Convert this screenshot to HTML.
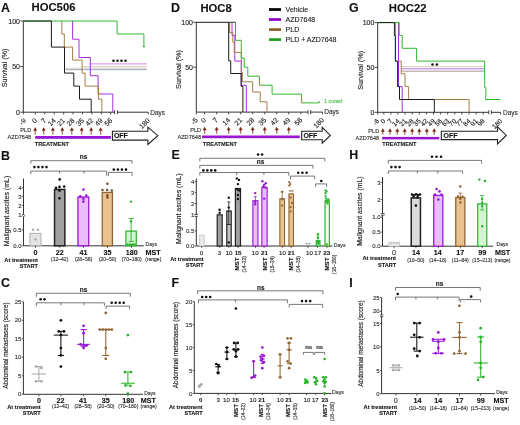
<!DOCTYPE html>
<html><head><meta charset="utf-8"><style>
html,body{margin:0;padding:0;background:#fff;width:520px;height:425px;overflow:hidden}
svg{display:block;will-change:transform}
text{font-family:"Liberation Sans", sans-serif}
</style></head><body>
<svg width="520" height="425" viewBox="0 0 520 425">
<rect width="520" height="425" fill="#fff"/>
<text x="1.1" y="11.66" font-size="12.4" text-anchor="start" font-weight="bold" fill="#111" stroke="#111" stroke-width="0.1">A</text>
<text x="1.1" y="159.66" font-size="12.4" text-anchor="start" font-weight="bold" fill="#111" stroke="#111" stroke-width="0.1">B</text>
<text x="1.1" y="286.86" font-size="12.4" text-anchor="start" font-weight="bold" fill="#111" stroke="#111" stroke-width="0.1">C</text>
<text x="171.1" y="11.86" font-size="12.4" text-anchor="start" font-weight="bold" fill="#111" stroke="#111" stroke-width="0.1">D</text>
<text x="171.4" y="159.26" font-size="12.4" text-anchor="start" font-weight="bold" fill="#111" stroke="#111" stroke-width="0.1">E</text>
<text x="171.4" y="286.96" font-size="12.4" text-anchor="start" font-weight="bold" fill="#111" stroke="#111" stroke-width="0.1">F</text>
<text x="349.1" y="11.86" font-size="12.4" text-anchor="start" font-weight="bold" fill="#111" stroke="#111" stroke-width="0.1">G</text>
<text x="349.2" y="158.66" font-size="12.4" text-anchor="start" font-weight="bold" fill="#111" stroke="#111" stroke-width="0.1">H</text>
<text x="349.2" y="287.16" font-size="12.4" text-anchor="start" font-weight="bold" fill="#111" stroke="#111" stroke-width="0.1">I</text>
<text x="31.5" y="11.37" font-size="11.3" text-anchor="start" font-weight="bold" fill="#111" stroke="#111" stroke-width="0.1">HOC506</text>
<text x="200.4" y="11.57" font-size="11.3" text-anchor="start" font-weight="bold" fill="#111" stroke="#111" stroke-width="0.1">HOC8</text>
<text x="388.8" y="11.57" font-size="11.3" text-anchor="start" font-weight="bold" fill="#111" stroke="#111" stroke-width="0.1">HOC22</text>
<line x1="23.3" y1="21" x2="23.3" y2="112.2" stroke="#333" stroke-width="1"/>
<line x1="20.3" y1="21" x2="23.3" y2="21" stroke="#333" stroke-width="0.9"/>
<text x="20" y="23.52" font-size="7" text-anchor="end" fill="#222" stroke="#222" stroke-width="0.13">100</text>
<line x1="20.3" y1="66.6" x2="23.3" y2="66.6" stroke="#333" stroke-width="0.9"/>
<text x="20" y="69.12" font-size="7" text-anchor="end" fill="#222" stroke="#222" stroke-width="0.13">50</text>
<line x1="20.3" y1="112.2" x2="23.3" y2="112.2" stroke="#333" stroke-width="0.9"/>
<text x="20" y="114.72" font-size="7" text-anchor="end" fill="#222" stroke="#222" stroke-width="0.13">0</text>
<line x1="23.3" y1="112.2" x2="114.6" y2="112.2" stroke="#333" stroke-width="1"/>
<line x1="117.4" y1="112.2" x2="148.3" y2="112.2" stroke="#333" stroke-width="1"/>
<line x1="114.6" y1="110.2" x2="114.6" y2="114.2" stroke="#333" stroke-width="0.9"/>
<line x1="117.4" y1="110.2" x2="117.4" y2="114.2" stroke="#333" stroke-width="0.9"/>
<line x1="23.3" y1="112.2" x2="23.3" y2="114.4" stroke="#333" stroke-width="0.9"/>
<text x="26.6" y="121.1" font-size="7" text-anchor="end" fill="#222" stroke="#222" stroke-width="0.13" transform="rotate(-45 26.6 121.1)">-9</text>
<line x1="35.4" y1="112.2" x2="35.4" y2="114.4" stroke="#333" stroke-width="0.9"/>
<text x="37.4" y="121.1" font-size="7" text-anchor="end" fill="#222" stroke="#222" stroke-width="0.13" transform="rotate(-45 37.4 121.1)">0</text>
<line x1="44.81" y1="112.2" x2="44.81" y2="114.4" stroke="#333" stroke-width="0.9"/>
<text x="46.81" y="121.1" font-size="7" text-anchor="end" fill="#222" stroke="#222" stroke-width="0.13" transform="rotate(-45 46.81 121.1)">7</text>
<line x1="54.23" y1="112.2" x2="54.23" y2="114.4" stroke="#333" stroke-width="0.9"/>
<text x="56.23" y="121.1" font-size="7" text-anchor="end" fill="#222" stroke="#222" stroke-width="0.13" transform="rotate(-45 56.23 121.1)">14</text>
<line x1="63.64" y1="112.2" x2="63.64" y2="114.4" stroke="#333" stroke-width="0.9"/>
<text x="65.64" y="121.1" font-size="7" text-anchor="end" fill="#222" stroke="#222" stroke-width="0.13" transform="rotate(-45 65.64 121.1)">21</text>
<line x1="73.06" y1="112.2" x2="73.06" y2="114.4" stroke="#333" stroke-width="0.9"/>
<text x="75.06" y="121.1" font-size="7" text-anchor="end" fill="#222" stroke="#222" stroke-width="0.13" transform="rotate(-45 75.06 121.1)">28</text>
<line x1="82.47" y1="112.2" x2="82.47" y2="114.4" stroke="#333" stroke-width="0.9"/>
<text x="84.47" y="121.1" font-size="7" text-anchor="end" fill="#222" stroke="#222" stroke-width="0.13" transform="rotate(-45 84.47 121.1)">35</text>
<line x1="91.89" y1="112.2" x2="91.89" y2="114.4" stroke="#333" stroke-width="0.9"/>
<text x="93.89" y="121.1" font-size="7" text-anchor="end" fill="#222" stroke="#222" stroke-width="0.13" transform="rotate(-45 93.89 121.1)">42</text>
<line x1="101.31" y1="112.2" x2="101.31" y2="114.4" stroke="#333" stroke-width="0.9"/>
<text x="103.31" y="121.1" font-size="7" text-anchor="end" fill="#222" stroke="#222" stroke-width="0.13" transform="rotate(-45 103.31 121.1)">49</text>
<line x1="110.72" y1="112.2" x2="110.72" y2="114.4" stroke="#333" stroke-width="0.9"/>
<text x="112.72" y="121.1" font-size="7" text-anchor="end" fill="#222" stroke="#222" stroke-width="0.13" transform="rotate(-45 112.72 121.1)">56</text>
<line x1="148.3" y1="112.2" x2="148.3" y2="114.4" stroke="#333" stroke-width="0.9"/>
<text x="150.3" y="121.1" font-size="7" text-anchor="end" fill="#222" stroke="#222" stroke-width="0.13" transform="rotate(-45 150.3 121.1)">180</text>
<text x="150.2" y="114.54" font-size="6.5" text-anchor="start" fill="#333" stroke="#333" stroke-width="0.13">Days</text>
<text x="4.9" y="70.59" font-size="7.2" text-anchor="middle" fill="#222" stroke="#222" stroke-width="0.13" transform="rotate(-90 4.9 68)">Survival (%)</text>
<line x1="89.6" y1="63.9" x2="146.8" y2="63.9" stroke="#c868e0" stroke-width="0.8"/>
<line x1="83" y1="66.7" x2="146.8" y2="66.7" stroke="#d8b890" stroke-width="0.8"/>
<line x1="65.4" y1="68.3" x2="146.8" y2="68.3" stroke="#c0c0c0" stroke-width="0.7"/>
<line x1="65.4" y1="69.7" x2="146.8" y2="69.7" stroke="#8890a0" stroke-width="0.8"/>
<circle cx="113.5" cy="60.7" r="1.3" fill="#111"/>
<circle cx="117.5" cy="60.7" r="1.3" fill="#111"/>
<circle cx="121.5" cy="60.7" r="1.3" fill="#111"/>
<circle cx="125.5" cy="60.7" r="1.3" fill="#111"/>
<path d="M72.6,21 L72.6,21 L72.6,39.2 L79,39.2 L79,57.5 L90.3,57.5 L90.3,75.7 L98.1,75.7 L98.1,94 L112.8,94 L112.8,112.2" stroke="#a630e0" stroke-width="1" fill="none" stroke-linejoin="miter" stroke-linecap="butt"/>
<path d="M61.8,21 L61.8,21 L61.8,34 L64.3,34 L64.3,47.1 L72.6,47.1 L72.6,60.1 L82.1,60.1 L82.1,73.1 L85.1,73.1 L85.1,86.1 L98.4,86.1 L98.4,99.2 L101.9,99.2 L101.9,112.2" stroke="#a67c46" stroke-width="1" fill="none" stroke-linejoin="miter" stroke-linecap="butt"/>
<path d="M23.3,21 L117.1,21 L117.1,34 L143.9,34 L143.9,47.1" stroke="#2eb82e" stroke-width="1" fill="none" stroke-linejoin="miter" stroke-linecap="butt"/>
<line x1="142.8" y1="46.6" x2="145" y2="46.6" stroke="#28b428" stroke-width="1.2"/>
<path d="M23.3,21 L51.4,21 L51.4,47.1 L64.5,47.1 L64.5,73.1 L73.8,73.1 L73.8,86.1 L79.5,86.1 L79.5,99.2 L91.2,99.2 L91.2,112.2" stroke="#1a1a1a" stroke-width="1" fill="none" stroke-linejoin="miter" stroke-linecap="butt"/>
<text x="31.2" y="132.12" font-size="5.6" text-anchor="end" fill="#333" stroke="#333" stroke-width="0.13">PLD</text>
<text x="31.2" y="139.42" font-size="5.6" text-anchor="end" fill="#333" stroke="#333" stroke-width="0.13">AZD7648</text>
<line x1="35.2" y1="130.3" x2="35.2" y2="134.6" stroke="#a07060" stroke-width="1.25"/>
<path d="M33.2,130.8 L35.2,127.3 L37.2,130.8 Z" fill="#7e2410"/>
<line x1="43.7" y1="130.3" x2="43.7" y2="134.6" stroke="#a07060" stroke-width="1.25"/>
<path d="M41.7,130.8 L43.7,127.3 L45.7,130.8 Z" fill="#7e2410"/>
<line x1="52.9" y1="130.3" x2="52.9" y2="134.6" stroke="#a07060" stroke-width="1.25"/>
<path d="M50.9,130.8 L52.9,127.3 L54.9,130.8 Z" fill="#7e2410"/>
<line x1="62.3" y1="130.3" x2="62.3" y2="134.6" stroke="#a07060" stroke-width="1.25"/>
<path d="M60.3,130.8 L62.3,127.3 L64.3,130.8 Z" fill="#7e2410"/>
<line x1="71.8" y1="130.3" x2="71.8" y2="134.6" stroke="#a07060" stroke-width="1.25"/>
<path d="M69.8,130.8 L71.8,127.3 L73.8,130.8 Z" fill="#7e2410"/>
<line x1="81.7" y1="130.3" x2="81.7" y2="134.6" stroke="#a07060" stroke-width="1.25"/>
<path d="M79.7,130.8 L81.7,127.3 L83.7,130.8 Z" fill="#7e2410"/>
<line x1="91.2" y1="130.3" x2="91.2" y2="134.6" stroke="#a07060" stroke-width="1.25"/>
<path d="M89.2,130.8 L91.2,127.3 L93.2,130.8 Z" fill="#7e2410"/>
<line x1="100.6" y1="130.3" x2="100.6" y2="134.6" stroke="#a07060" stroke-width="1.25"/>
<path d="M98.6,130.8 L100.6,127.3 L102.6,130.8 Z" fill="#7e2410"/>
<rect x="35.2" y="136" width="75.7" height="2.8" fill="#9a16d6"/>
<text x="34.8" y="145.92" font-size="5.6" text-anchor="start" font-weight="bold" fill="#222" stroke="#222" stroke-width="0.1">TREATMENT</text>
<path d="M112.4,131.3 L147.9,131.3 L147.9,127.2 L157.8,135.7 L147.9,144.5 L147.9,140.1 L112.4,140.1 Z" stroke="#222" stroke-width="1.1" fill="#fff" stroke-linejoin="miter"/>
<text x="113.9" y="137.92" font-size="7" text-anchor="start" font-weight="bold" fill="#111" stroke="#111" stroke-width="0.1">OFF</text>
<line x1="196.3" y1="22.3" x2="196.3" y2="112.1" stroke="#333" stroke-width="1"/>
<line x1="193.3" y1="22.3" x2="196.3" y2="22.3" stroke="#333" stroke-width="0.9"/>
<text x="193" y="24.82" font-size="7" text-anchor="end" fill="#222" stroke="#222" stroke-width="0.13">100</text>
<line x1="193.3" y1="67.2" x2="196.3" y2="67.2" stroke="#333" stroke-width="0.9"/>
<text x="193" y="69.72" font-size="7" text-anchor="end" fill="#222" stroke="#222" stroke-width="0.13">50</text>
<line x1="196.3" y1="112.1" x2="308" y2="112.1" stroke="#333" stroke-width="1"/>
<line x1="310.6" y1="112.1" x2="322.5" y2="112.1" stroke="#333" stroke-width="1"/>
<line x1="308" y1="110.1" x2="308" y2="114.1" stroke="#333" stroke-width="0.9"/>
<line x1="310.6" y1="110.1" x2="310.6" y2="114.1" stroke="#333" stroke-width="0.9"/>
<line x1="196.3" y1="112.1" x2="196.3" y2="114.3" stroke="#333" stroke-width="0.9"/>
<text x="198.3" y="120.5" font-size="7" text-anchor="end" fill="#222" stroke="#222" stroke-width="0.13" transform="rotate(-45 198.3 120.5)">-5</text>
<line x1="204.6" y1="112.1" x2="204.6" y2="114.3" stroke="#333" stroke-width="0.9"/>
<text x="206.6" y="120.5" font-size="7" text-anchor="end" fill="#222" stroke="#222" stroke-width="0.13" transform="rotate(-45 206.6 120.5)">0</text>
<line x1="216.62" y1="112.1" x2="216.62" y2="114.3" stroke="#333" stroke-width="0.9"/>
<text x="218.62" y="120.5" font-size="7" text-anchor="end" fill="#222" stroke="#222" stroke-width="0.13" transform="rotate(-45 218.62 120.5)">7</text>
<line x1="228.65" y1="112.1" x2="228.65" y2="114.3" stroke="#333" stroke-width="0.9"/>
<text x="230.65" y="120.5" font-size="7" text-anchor="end" fill="#222" stroke="#222" stroke-width="0.13" transform="rotate(-45 230.65 120.5)">14</text>
<line x1="240.67" y1="112.1" x2="240.67" y2="114.3" stroke="#333" stroke-width="0.9"/>
<text x="242.67" y="120.5" font-size="7" text-anchor="end" fill="#222" stroke="#222" stroke-width="0.13" transform="rotate(-45 242.67 120.5)">21</text>
<line x1="252.7" y1="112.1" x2="252.7" y2="114.3" stroke="#333" stroke-width="0.9"/>
<text x="254.7" y="120.5" font-size="7" text-anchor="end" fill="#222" stroke="#222" stroke-width="0.13" transform="rotate(-45 254.7 120.5)">28</text>
<line x1="264.72" y1="112.1" x2="264.72" y2="114.3" stroke="#333" stroke-width="0.9"/>
<text x="266.72" y="120.5" font-size="7" text-anchor="end" fill="#222" stroke="#222" stroke-width="0.13" transform="rotate(-45 266.72 120.5)">35</text>
<line x1="276.75" y1="112.1" x2="276.75" y2="114.3" stroke="#333" stroke-width="0.9"/>
<text x="278.75" y="120.5" font-size="7" text-anchor="end" fill="#222" stroke="#222" stroke-width="0.13" transform="rotate(-45 278.75 120.5)">42</text>
<line x1="288.77" y1="112.1" x2="288.77" y2="114.3" stroke="#333" stroke-width="0.9"/>
<text x="290.77" y="120.5" font-size="7" text-anchor="end" fill="#222" stroke="#222" stroke-width="0.13" transform="rotate(-45 290.77 120.5)">49</text>
<line x1="300.8" y1="112.1" x2="300.8" y2="114.3" stroke="#333" stroke-width="0.9"/>
<text x="302.8" y="120.5" font-size="7" text-anchor="end" fill="#222" stroke="#222" stroke-width="0.13" transform="rotate(-45 302.8 120.5)">56</text>
<line x1="322.5" y1="112.1" x2="322.5" y2="114.3" stroke="#333" stroke-width="0.9"/>
<text x="324.5" y="120.5" font-size="7" text-anchor="end" fill="#222" stroke="#222" stroke-width="0.13" transform="rotate(-45 324.5 120.5)">180</text>
<text x="324.2" y="114.44" font-size="6.5" text-anchor="start" fill="#333" stroke="#333" stroke-width="0.13">Days</text>
<text x="178.6" y="72.09" font-size="7.2" text-anchor="middle" fill="#222" stroke="#222" stroke-width="0.13" transform="rotate(-90 178.6 69.5)">Survival (%)</text>
<rect x="269" y="8.15" width="12" height="2.7" fill="#000"/>
<text x="285.6" y="12.32" font-size="7" text-anchor="start" fill="#222" stroke="#222" stroke-width="0.13">Vehicle</text>
<rect x="269" y="18.15" width="12" height="2.7" fill="#8a00c0"/>
<text x="285.6" y="22.32" font-size="7" text-anchor="start" fill="#222" stroke="#222" stroke-width="0.13">AZD7648</text>
<rect x="269" y="28.25" width="12" height="2.7" fill="#8c5f28"/>
<text x="285.6" y="32.42" font-size="7" text-anchor="start" fill="#222" stroke="#222" stroke-width="0.13">PLD</text>
<rect x="269" y="38.25" width="12" height="2.7" fill="#1ea01e"/>
<text x="285.6" y="42.42" font-size="7" text-anchor="start" fill="#222" stroke="#222" stroke-width="0.13">PLD + AZD7648</text>
<path d="M232,22.3 L232,22.3 L232,35.4 L234.8,35.4 L234.8,61 L241.3,61 L241.3,85.3 L246.3,85.3 L246.3,112.1" stroke="#a630e0" stroke-width="1" fill="none" stroke-linejoin="miter" stroke-linecap="butt"/>
<path d="M229.6,22.3 L229.6,22.3 L229.6,32.7 L232.8,32.7 L232.8,42.1 L234.2,42.1 L234.2,52.4 L241.3,52.4 L241.3,72 L242.3,72 L242.3,81.8 L252.7,81.8 L252.7,92 L260.2,92 L260.2,101.8 L267,101.8 L267,112.1" stroke="#a67c46" stroke-width="1" fill="none" stroke-linejoin="miter" stroke-linecap="butt"/>
<path d="M235.5,22.3 L235.5,22.3 L235.5,40.3 L241.3,40.3 L241.3,58.2 L244.2,58.2 L244.2,67.2 L247.8,67.2 L247.8,76.2 L259.5,76.2 L259.5,85.2 L272.1,85.2 L272.1,94.1 L301.6,94.1 L301.6,102.9 L319.2,102.9" stroke="#2eb82e" stroke-width="1" fill="none" stroke-linejoin="miter" stroke-linecap="butt"/>
<line x1="319.2" y1="101" x2="319.2" y2="102.9" stroke="#2eb82e" stroke-width="1"/>
<path d="M196.3,22.3 L228.7,22.3 L228.7,60.8 L230.7,60.8 L230.7,73.5 L241.1,73.5 L241.1,86.4 L242.9,86.4 L242.9,112.1" stroke="#1a1a1a" stroke-width="1" fill="none" stroke-linejoin="miter" stroke-linecap="butt"/>
<line x1="228.5" y1="22.3" x2="235.5" y2="22.3" stroke="#444" stroke-width="1.1"/>
<text x="324" y="103.04" font-size="5.4" text-anchor="start" fill="#4cbf4c" stroke="#4cbf4c" stroke-width="0.13">1 cured</text>
<text x="201.1" y="131.92" font-size="5.6" text-anchor="end" fill="#333" stroke="#333" stroke-width="0.13">PLD</text>
<text x="201.1" y="138.82" font-size="5.6" text-anchor="end" fill="#333" stroke="#333" stroke-width="0.13">AZD7648</text>
<line x1="204.6" y1="129.8" x2="204.6" y2="133.7" stroke="#a07060" stroke-width="1.25"/>
<path d="M202.6,130.3 L204.6,126.8 L206.6,130.3 Z" fill="#7e2410"/>
<line x1="216.62" y1="129.8" x2="216.62" y2="133.7" stroke="#a07060" stroke-width="1.25"/>
<path d="M214.62,130.3 L216.62,126.8 L218.62,130.3 Z" fill="#7e2410"/>
<line x1="228.65" y1="129.8" x2="228.65" y2="133.7" stroke="#a07060" stroke-width="1.25"/>
<path d="M226.65,130.3 L228.65,126.8 L230.65,130.3 Z" fill="#7e2410"/>
<line x1="240.67" y1="129.8" x2="240.67" y2="133.7" stroke="#a07060" stroke-width="1.25"/>
<path d="M238.67,130.3 L240.67,126.8 L242.67,130.3 Z" fill="#7e2410"/>
<line x1="252.7" y1="129.8" x2="252.7" y2="133.7" stroke="#a07060" stroke-width="1.25"/>
<path d="M250.7,130.3 L252.7,126.8 L254.7,130.3 Z" fill="#7e2410"/>
<line x1="264.72" y1="129.8" x2="264.72" y2="133.7" stroke="#a07060" stroke-width="1.25"/>
<path d="M262.72,130.3 L264.72,126.8 L266.72,130.3 Z" fill="#7e2410"/>
<line x1="276.75" y1="129.8" x2="276.75" y2="133.7" stroke="#a07060" stroke-width="1.25"/>
<path d="M274.75,130.3 L276.75,126.8 L278.75,130.3 Z" fill="#7e2410"/>
<line x1="288.77" y1="129.8" x2="288.77" y2="133.7" stroke="#a07060" stroke-width="1.25"/>
<path d="M286.77,130.3 L288.77,126.8 L290.77,130.3 Z" fill="#7e2410"/>
<rect x="202" y="135.5" width="97.8" height="2.7" fill="#9a16d6"/>
<text x="202.8" y="146.02" font-size="5.6" text-anchor="start" font-weight="bold" fill="#222" stroke="#222" stroke-width="0.1">TREATMENT</text>
<path d="M301.7,131.2 L322.2,131.2 L322.2,127.4 L330.4,135.45 L322.2,143.2 L322.2,139.7 L301.7,139.7 Z" stroke="#222" stroke-width="1.1" fill="#fff" stroke-linejoin="miter"/>
<text x="303.4" y="138.02" font-size="7" text-anchor="start" font-weight="bold" fill="#111" stroke="#111" stroke-width="0.1">OFF</text>
<line x1="377.7" y1="22.6" x2="377.7" y2="112.3" stroke="#333" stroke-width="1"/>
<line x1="374.7" y1="22.6" x2="377.7" y2="22.6" stroke="#333" stroke-width="0.9"/>
<text x="374.4" y="25.12" font-size="7" text-anchor="end" fill="#222" stroke="#222" stroke-width="0.13">100</text>
<line x1="374.7" y1="67.45" x2="377.7" y2="67.45" stroke="#333" stroke-width="0.9"/>
<text x="374.4" y="69.97" font-size="7" text-anchor="end" fill="#222" stroke="#222" stroke-width="0.13">50</text>
<line x1="374.7" y1="112.3" x2="377.7" y2="112.3" stroke="#333" stroke-width="0.9"/>
<text x="374.4" y="114.82" font-size="7" text-anchor="end" fill="#222" stroke="#222" stroke-width="0.13">0</text>
<line x1="377.7" y1="112.3" x2="488.8" y2="112.3" stroke="#333" stroke-width="1"/>
<line x1="491.4" y1="112.3" x2="500.6" y2="112.3" stroke="#333" stroke-width="1"/>
<line x1="488.8" y1="110.3" x2="488.8" y2="114.3" stroke="#333" stroke-width="0.9"/>
<line x1="491.4" y1="110.3" x2="491.4" y2="114.3" stroke="#333" stroke-width="0.9"/>
<line x1="377.7" y1="112.3" x2="377.7" y2="114.5" stroke="#333" stroke-width="0.9"/>
<text x="379.7" y="121.5" font-size="6.6" text-anchor="end" fill="#222" stroke="#222" stroke-width="0.13" transform="rotate(-45 379.7 121.5)">-6</text>
<line x1="383.8" y1="112.3" x2="383.8" y2="114.5" stroke="#333" stroke-width="0.9"/>
<text x="385.8" y="121.5" font-size="6.6" text-anchor="end" fill="#222" stroke="#222" stroke-width="0.13" transform="rotate(-45 385.8 121.5)">0</text>
<line x1="390.9" y1="112.3" x2="390.9" y2="114.5" stroke="#333" stroke-width="0.9"/>
<text x="392.9" y="121.5" font-size="6.6" text-anchor="end" fill="#222" stroke="#222" stroke-width="0.13" transform="rotate(-45 392.9 121.5)">7</text>
<line x1="398" y1="112.3" x2="398" y2="114.5" stroke="#333" stroke-width="0.9"/>
<text x="400" y="121.5" font-size="6.6" text-anchor="end" fill="#222" stroke="#222" stroke-width="0.13" transform="rotate(-45 400 121.5)">14</text>
<line x1="405.1" y1="112.3" x2="405.1" y2="114.5" stroke="#333" stroke-width="0.9"/>
<text x="407.1" y="121.5" font-size="6.6" text-anchor="end" fill="#222" stroke="#222" stroke-width="0.13" transform="rotate(-45 407.1 121.5)">21</text>
<line x1="412.2" y1="112.3" x2="412.2" y2="114.5" stroke="#333" stroke-width="0.9"/>
<text x="414.2" y="121.5" font-size="6.6" text-anchor="end" fill="#222" stroke="#222" stroke-width="0.13" transform="rotate(-45 414.2 121.5)">28</text>
<line x1="419.3" y1="112.3" x2="419.3" y2="114.5" stroke="#333" stroke-width="0.9"/>
<text x="421.3" y="121.5" font-size="6.6" text-anchor="end" fill="#222" stroke="#222" stroke-width="0.13" transform="rotate(-45 421.3 121.5)">35</text>
<line x1="426.4" y1="112.3" x2="426.4" y2="114.5" stroke="#333" stroke-width="0.9"/>
<text x="428.4" y="121.5" font-size="6.6" text-anchor="end" fill="#222" stroke="#222" stroke-width="0.13" transform="rotate(-45 428.4 121.5)">42</text>
<line x1="433.5" y1="112.3" x2="433.5" y2="114.5" stroke="#333" stroke-width="0.9"/>
<text x="435.5" y="121.5" font-size="6.6" text-anchor="end" fill="#222" stroke="#222" stroke-width="0.13" transform="rotate(-45 435.5 121.5)">49</text>
<line x1="440.6" y1="112.3" x2="440.6" y2="114.5" stroke="#333" stroke-width="0.9"/>
<text x="442.6" y="121.5" font-size="6.6" text-anchor="end" fill="#222" stroke="#222" stroke-width="0.13" transform="rotate(-45 442.6 121.5)">56</text>
<line x1="447.7" y1="112.3" x2="447.7" y2="114.5" stroke="#333" stroke-width="0.9"/>
<text x="449.7" y="121.5" font-size="6.6" text-anchor="end" fill="#222" stroke="#222" stroke-width="0.13" transform="rotate(-45 449.7 121.5)">63</text>
<line x1="454.8" y1="112.3" x2="454.8" y2="114.5" stroke="#333" stroke-width="0.9"/>
<text x="456.8" y="121.5" font-size="6.6" text-anchor="end" fill="#222" stroke="#222" stroke-width="0.13" transform="rotate(-45 456.8 121.5)">70</text>
<line x1="461.9" y1="112.3" x2="461.9" y2="114.5" stroke="#333" stroke-width="0.9"/>
<text x="463.9" y="121.5" font-size="6.6" text-anchor="end" fill="#222" stroke="#222" stroke-width="0.13" transform="rotate(-45 463.9 121.5)">77</text>
<line x1="469" y1="112.3" x2="469" y2="114.5" stroke="#333" stroke-width="0.9"/>
<text x="471" y="121.5" font-size="6.6" text-anchor="end" fill="#222" stroke="#222" stroke-width="0.13" transform="rotate(-45 471 121.5)">84</text>
<line x1="476.1" y1="112.3" x2="476.1" y2="114.5" stroke="#333" stroke-width="0.9"/>
<text x="478.1" y="121.5" font-size="6.6" text-anchor="end" fill="#222" stroke="#222" stroke-width="0.13" transform="rotate(-45 478.1 121.5)">91</text>
<line x1="483.2" y1="112.3" x2="483.2" y2="114.5" stroke="#333" stroke-width="0.9"/>
<text x="485.2" y="121.5" font-size="6.6" text-anchor="end" fill="#222" stroke="#222" stroke-width="0.13" transform="rotate(-45 485.2 121.5)">98</text>
<line x1="500.6" y1="112.3" x2="500.6" y2="114.5" stroke="#333" stroke-width="0.9"/>
<text x="502.6" y="121.5" font-size="6.6" text-anchor="end" fill="#222" stroke="#222" stroke-width="0.13" transform="rotate(-45 502.6 121.5)">180</text>
<text x="503" y="114.64" font-size="6.5" text-anchor="start" fill="#333" stroke="#333" stroke-width="0.13">Days</text>
<text x="360.2" y="72.89" font-size="7.2" text-anchor="middle" fill="#222" stroke="#222" stroke-width="0.13" transform="rotate(-90 360.2 70.3)">Survival (%)</text>
<line x1="401" y1="66.6" x2="484.7" y2="66.6" stroke="#dcc0a0" stroke-width="0.8"/>
<line x1="401" y1="68.6" x2="484.7" y2="68.6" stroke="#b470e0" stroke-width="0.8"/>
<line x1="401" y1="70" x2="484.7" y2="70" stroke="#d4b0ec" stroke-width="0.7"/>
<line x1="401" y1="71.3" x2="484.7" y2="71.3" stroke="#a89888" stroke-width="0.8"/>
<circle cx="432.5" cy="64.5" r="1.3" fill="#111"/>
<circle cx="436.9" cy="64.5" r="1.3" fill="#111"/>
<path d="M398.5,22.6 L398.5,22.6 L398.5,86.6 L402.2,86.6 L402.2,112.3" stroke="#a630e0" stroke-width="1" fill="none" stroke-linejoin="miter" stroke-linecap="butt"/>
<path d="M395.6,22.6 L395.6,22.6 L395.6,61.2 L401.2,61.2 L401.2,73.8 L405,73.8 L405,86.6 L408.6,86.6 L408.6,99.5 L469.1,99.5 L469.1,112.3" stroke="#a67c46" stroke-width="1" fill="none" stroke-linejoin="miter" stroke-linecap="butt"/>
<path d="M377.7,22.6 L399.2,22.6 L399.2,35.4 L402.2,35.4 L402.2,48.3 L416.6,48.3 L416.6,61.1 L484.7,61.1 L484.7,87.4 L485.8,87.4 L485.8,99.5 L500.6,99.5" stroke="#2eb82e" stroke-width="1" fill="none" stroke-linejoin="miter" stroke-linecap="butt"/>
<path d="M377.7,22.6 L394.4,22.6 L394.4,35.5 L395.3,35.5 L395.3,61.2 L397.6,61.2 L397.6,86.6 L399.5,86.6 L399.5,99.5 L434.3,99.5 L434.3,112.3" stroke="#1a1a1a" stroke-width="1" fill="none" stroke-linejoin="miter" stroke-linecap="butt"/>
<text x="379.2" y="132.82" font-size="5.6" text-anchor="end" fill="#333" stroke="#333" stroke-width="0.13">PLD</text>
<text x="379.2" y="139.62" font-size="5.6" text-anchor="end" fill="#333" stroke="#333" stroke-width="0.13">AZD7648</text>
<line x1="382.8" y1="131.2" x2="382.8" y2="134.8" stroke="#a07060" stroke-width="1.25"/>
<path d="M380.8,131.7 L382.8,128.2 L384.8,131.7 Z" fill="#7e2410"/>
<line x1="390" y1="131.2" x2="390" y2="134.8" stroke="#a07060" stroke-width="1.25"/>
<path d="M388,131.7 L390,128.2 L392,131.7 Z" fill="#7e2410"/>
<line x1="397.3" y1="131.2" x2="397.3" y2="134.8" stroke="#a07060" stroke-width="1.25"/>
<path d="M395.3,131.7 L397.3,128.2 L399.3,131.7 Z" fill="#7e2410"/>
<line x1="404.7" y1="131.2" x2="404.7" y2="134.8" stroke="#a07060" stroke-width="1.25"/>
<path d="M402.7,131.7 L404.7,128.2 L406.7,131.7 Z" fill="#7e2410"/>
<line x1="412.2" y1="131.2" x2="412.2" y2="134.8" stroke="#a07060" stroke-width="1.25"/>
<path d="M410.2,131.7 L412.2,128.2 L414.2,131.7 Z" fill="#7e2410"/>
<line x1="419.3" y1="131.2" x2="419.3" y2="134.8" stroke="#a07060" stroke-width="1.25"/>
<path d="M417.3,131.7 L419.3,128.2 L421.3,131.7 Z" fill="#7e2410"/>
<line x1="426.8" y1="131.2" x2="426.8" y2="134.8" stroke="#a07060" stroke-width="1.25"/>
<path d="M424.8,131.7 L426.8,128.2 L428.8,131.7 Z" fill="#7e2410"/>
<line x1="434.2" y1="131.2" x2="434.2" y2="134.8" stroke="#a07060" stroke-width="1.25"/>
<path d="M432.2,131.7 L434.2,128.2 L436.2,131.7 Z" fill="#7e2410"/>
<rect x="382.1" y="136.9" width="57.2" height="2.5" fill="#9a16d6"/>
<text x="382.3" y="146.12" font-size="5.6" text-anchor="start" font-weight="bold" fill="#222" stroke="#222" stroke-width="0.1">TREATMENT</text>
<path d="M441.3,131.3 L497.5,131.3 L497.5,126.8 L506.3,135.45 L497.5,144 L497.5,139.6 L441.3,139.6 Z" stroke="#222" stroke-width="1.1" fill="#fff" stroke-linejoin="miter"/>
<text x="443.5" y="138.02" font-size="7" text-anchor="start" font-weight="bold" fill="#111" stroke="#111" stroke-width="0.1">OFF</text>
<line x1="23.5" y1="178.5" x2="23.5" y2="245.8" stroke="#333" stroke-width="1"/>
<line x1="23.5" y1="245.8" x2="143.8" y2="245.8" stroke="#333" stroke-width="1"/>
<line x1="21.9" y1="187.6" x2="23.5" y2="187.6" stroke="#333" stroke-width="0.8"/>
<text x="21.5" y="189.76" font-size="6" text-anchor="end" fill="#333" stroke="#333" stroke-width="0.13">4</text>
<line x1="21.9" y1="196.4" x2="23.5" y2="196.4" stroke="#333" stroke-width="0.8"/>
<text x="21.5" y="198.56" font-size="6" text-anchor="end" fill="#333" stroke="#333" stroke-width="0.13">3</text>
<line x1="21.9" y1="205.4" x2="23.5" y2="205.4" stroke="#333" stroke-width="0.8"/>
<text x="21.5" y="207.56" font-size="6" text-anchor="end" fill="#333" stroke="#333" stroke-width="0.13">2</text>
<line x1="21.9" y1="214.6" x2="23.5" y2="214.6" stroke="#333" stroke-width="0.8"/>
<text x="21.5" y="216.76" font-size="6" text-anchor="end" fill="#333" stroke="#333" stroke-width="0.13">1</text>
<line x1="21.9" y1="229.9" x2="23.5" y2="229.9" stroke="#333" stroke-width="0.8"/>
<text x="21.5" y="232.06" font-size="6" text-anchor="end" fill="#333" stroke="#333" stroke-width="0.13">0.5</text>
<line x1="21.9" y1="245.8" x2="23.5" y2="245.8" stroke="#333" stroke-width="0.8"/>
<text x="21.5" y="247.96" font-size="6" text-anchor="end" fill="#333" stroke="#333" stroke-width="0.13">0.0</text>
<text x="6.3" y="213.52" font-size="7" text-anchor="middle" fill="#222" stroke="#222" stroke-width="0.13" transform="rotate(-90 6.3 211)">Malignant ascites (mL)</text>
<circle cx="23.5" cy="215.6" r="1.1" fill="#fff" stroke="#444" stroke-width="0.7"/>
<rect x="29.9" y="233.4" width="11.1" height="12.4" fill="#e4e4e4" stroke="#b0b0b0" stroke-width="1"/>
<circle cx="32.9" cy="229.8" r="1.2" fill="#aaa"/>
<circle cx="38" cy="229.8" r="1.2" fill="#aaa"/>
<circle cx="35.5" cy="239.4" r="1.2" fill="#aaa"/>
<rect x="54.55" y="189.45" width="10.3" height="56.35" fill="#a0a0a0" stroke="#222" stroke-width="1.5"/>
<circle cx="59.7" cy="179.4" r="1.3" fill="#111"/>
<circle cx="56" cy="187.8" r="1.3" fill="#111"/>
<circle cx="59.5" cy="186.9" r="1.3" fill="#111"/>
<circle cx="64.2" cy="186.6" r="1.3" fill="#111"/>
<circle cx="59.5" cy="190.7" r="1.3" fill="#111"/>
<circle cx="59.5" cy="198.2" r="1.3" fill="#111"/>
<rect x="77.95" y="197.05" width="10.8" height="48.75" fill="#ebbdf8" stroke="#9a16d6" stroke-width="1.3"/>
<circle cx="83.4" cy="189.5" r="1.3" fill="#9a16d6"/>
<circle cx="80.3" cy="196.4" r="1.3" fill="#9a16d6"/>
<circle cx="86.3" cy="195.6" r="1.3" fill="#9a16d6"/>
<circle cx="83.4" cy="198.7" r="1.3" fill="#9a16d6"/>
<circle cx="83.4" cy="201.6" r="1.3" fill="#9a16d6"/>
<rect x="102.25" y="192.45" width="10.2" height="53.35" fill="#e9c28f" stroke="#8f6534" stroke-width="1.3"/>
<circle cx="107.4" cy="183.8" r="1.25" fill="#6e4c28"/>
<circle cx="102.5" cy="190" r="1.25" fill="#6e4c28"/>
<circle cx="107.2" cy="190" r="1.25" fill="#6e4c28"/>
<circle cx="111.8" cy="190.5" r="1.25" fill="#6e4c28"/>
<circle cx="107.4" cy="195.2" r="1.25" fill="#6e4c28"/>
<circle cx="107.4" cy="197.6" r="1.25" fill="#6e4c28"/>
<rect x="125.9" y="231.1" width="10.4" height="14.7" fill="#d3f5d3" stroke="#28b428" stroke-width="1.2"/>
<line x1="131.1" y1="218.4" x2="131.1" y2="241.4" stroke="#28b428" stroke-width="0.9"/>
<line x1="128.7" y1="218.4" x2="133.9" y2="218.4" stroke="#28b428" stroke-width="0.9"/>
<line x1="128.7" y1="241.4" x2="133.9" y2="241.4" stroke="#28b428" stroke-width="0.9"/>
<circle cx="131" cy="201.6" r="1.2" fill="#28b428"/>
<circle cx="131" cy="221.5" r="1.2" fill="#28b428"/>
<circle cx="127.5" cy="244.4" r="1.2" fill="#28b428"/>
<circle cx="130" cy="244.4" r="1.2" fill="#28b428"/>
<circle cx="132.5" cy="244.4" r="1.2" fill="#28b428"/>
<circle cx="134.5" cy="244.4" r="1.2" fill="#28b428"/>
<line x1="35.5" y1="245.8" x2="35.5" y2="247.8" stroke="#333" stroke-width="0.8"/>
<line x1="59.7" y1="245.8" x2="59.7" y2="247.8" stroke="#333" stroke-width="0.8"/>
<line x1="83.5" y1="245.8" x2="83.5" y2="247.8" stroke="#333" stroke-width="0.8"/>
<line x1="107.5" y1="245.8" x2="107.5" y2="247.8" stroke="#333" stroke-width="0.8"/>
<line x1="131.5" y1="245.8" x2="131.5" y2="247.8" stroke="#333" stroke-width="0.8"/>
<text x="145.6" y="246.4" font-size="5" text-anchor="start" fill="#333" stroke="#333" stroke-width="0.13">Days</text>
<path d="M30.8,163.7 L30.8,160.7 L132,160.7 L132,163.7" stroke="#555" stroke-width="0.8" fill="none"/>
<text x="83.5" y="158.94" font-size="6.5" text-anchor="middle" font-weight="bold" fill="#1a1a1a" stroke="#1a1a1a" stroke-width="0.1">ns</text>
<path d="M30.8,174.1 L30.8,171.1 L106.6,171.1 L106.6,175.6" stroke="#555" stroke-width="0.8" fill="none"/>
<line x1="59.7" y1="171.1" x2="59.7" y2="173.6" stroke="#555" stroke-width="0.8"/>
<line x1="83.9" y1="171.1" x2="83.9" y2="173.6" stroke="#555" stroke-width="0.8"/>
<circle cx="34.4" cy="167.1" r="1.3" fill="#111"/>
<circle cx="38.43" cy="167.1" r="1.3" fill="#111"/>
<circle cx="42.46" cy="167.1" r="1.3" fill="#111"/>
<circle cx="46.49" cy="167.1" r="1.3" fill="#111"/>
<path d="M108.4,175.9 L108.4,172.4 L132,172.4 L132,175.9" stroke="#555" stroke-width="0.8" fill="none"/>
<circle cx="113.8" cy="169.6" r="1.3" fill="#111"/>
<circle cx="117.87" cy="169.6" r="1.3" fill="#111"/>
<circle cx="121.94" cy="169.6" r="1.3" fill="#111"/>
<circle cx="126.01" cy="169.6" r="1.3" fill="#111"/>
<text x="35.5" y="254.89" font-size="7.2" text-anchor="middle" font-weight="bold" fill="#111" stroke="#111" stroke-width="0.1">0</text>
<text x="59.7" y="254.89" font-size="7.2" text-anchor="middle" font-weight="bold" fill="#111" stroke="#111" stroke-width="0.1">22</text>
<text x="83.5" y="254.89" font-size="7.2" text-anchor="middle" font-weight="bold" fill="#111" stroke="#111" stroke-width="0.1">41</text>
<text x="107.5" y="254.89" font-size="7.2" text-anchor="middle" font-weight="bold" fill="#111" stroke="#111" stroke-width="0.1">35</text>
<text x="131.7" y="254.89" font-size="7.2" text-anchor="middle" font-weight="bold" fill="#111" stroke="#111" stroke-width="0.1">180</text>
<text x="145.5" y="254.89" font-size="7.2" text-anchor="start" font-weight="bold" fill="#111" stroke="#111" stroke-width="0.1">MST</text>
<text x="59.7" y="261.3" font-size="5" text-anchor="middle" fill="#333" stroke="#333" stroke-width="0.13">(12–42)</text>
<text x="83.5" y="261.3" font-size="5" text-anchor="middle" fill="#333" stroke="#333" stroke-width="0.13">(28–58)</text>
<text x="107.5" y="261.3" font-size="5" text-anchor="middle" fill="#333" stroke="#333" stroke-width="0.13">(20–50)</text>
<text x="131.7" y="261.3" font-size="5" text-anchor="middle" fill="#333" stroke="#333" stroke-width="0.13">(70–180)</text>
<text x="145.2" y="261.3" font-size="5" text-anchor="start" fill="#333" stroke="#333" stroke-width="0.13">(range)</text>
<text x="37.8" y="261.55" font-size="5.7" text-anchor="end" font-weight="bold" fill="#111" stroke="#111" stroke-width="0.1">At treatment</text>
<text x="37.8" y="268.08" font-size="5.5" text-anchor="end" font-weight="bold" fill="#111" stroke="#111" stroke-width="0.1">START</text>
<line x1="23.4" y1="301.8" x2="23.4" y2="394.3" stroke="#333" stroke-width="1"/>
<line x1="23.4" y1="394.3" x2="143" y2="394.3" stroke="#333" stroke-width="1"/>
<line x1="21.8" y1="301.8" x2="23.4" y2="301.8" stroke="#333" stroke-width="0.8"/>
<text x="21.4" y="303.96" font-size="6" text-anchor="end" fill="#333" stroke="#333" stroke-width="0.13">25</text>
<line x1="21.8" y1="320.3" x2="23.4" y2="320.3" stroke="#333" stroke-width="0.8"/>
<text x="21.4" y="322.46" font-size="6" text-anchor="end" fill="#333" stroke="#333" stroke-width="0.13">20</text>
<line x1="21.8" y1="338.8" x2="23.4" y2="338.8" stroke="#333" stroke-width="0.8"/>
<text x="21.4" y="340.96" font-size="6" text-anchor="end" fill="#333" stroke="#333" stroke-width="0.13">15</text>
<line x1="21.8" y1="357.3" x2="23.4" y2="357.3" stroke="#333" stroke-width="0.8"/>
<text x="21.4" y="359.46" font-size="6" text-anchor="end" fill="#333" stroke="#333" stroke-width="0.13">10</text>
<line x1="21.8" y1="375.8" x2="23.4" y2="375.8" stroke="#333" stroke-width="0.8"/>
<text x="21.4" y="377.96" font-size="6" text-anchor="end" fill="#333" stroke="#333" stroke-width="0.13">5</text>
<line x1="21.8" y1="394.3" x2="23.4" y2="394.3" stroke="#333" stroke-width="0.8"/>
<text x="21.4" y="396.46" font-size="6" text-anchor="end" fill="#333" stroke="#333" stroke-width="0.13">0</text>
<text x="5.3" y="347.9" font-size="6.4" text-anchor="middle" fill="#222" stroke="#222" stroke-width="0.13" transform="rotate(-90 5.3 345.6)">Abdominal metastases (score)</text>
<line x1="38.9" y1="366.55" x2="38.9" y2="381.35" stroke="#aaa" stroke-width="1.05"/>
<line x1="31.6" y1="373.95" x2="46.2" y2="373.95" stroke="#aaa" stroke-width="1.05"/>
<line x1="35.7" y1="366.55" x2="42.1" y2="366.55" stroke="#aaa" stroke-width="1.05"/>
<line x1="35.7" y1="381.35" x2="42.1" y2="381.35" stroke="#aaa" stroke-width="1.05"/>
<circle cx="36" cy="366.55" r="1.4" fill="#aaa"/>
<circle cx="41.5" cy="368.03" r="1.4" fill="#aaa"/>
<circle cx="36" cy="381.35" r="1.4" fill="#aaa"/>
<circle cx="41.5" cy="381.35" r="1.4" fill="#aaa"/>
<line x1="60.9" y1="331.4" x2="60.9" y2="355.45" stroke="#111" stroke-width="1.05"/>
<line x1="53.7" y1="335.1" x2="68.1" y2="335.1" stroke="#111" stroke-width="1.05"/>
<line x1="57.7" y1="331.4" x2="64.1" y2="331.4" stroke="#111" stroke-width="1.05"/>
<line x1="57.7" y1="355.45" x2="64.1" y2="355.45" stroke="#111" stroke-width="1.05"/>
<circle cx="60.9" cy="320.3" r="1.4" fill="#111"/>
<circle cx="58.8" cy="331.4" r="1.4" fill="#111"/>
<circle cx="64" cy="331.4" r="1.4" fill="#111"/>
<circle cx="60.9" cy="335.1" r="1.4" fill="#111"/>
<circle cx="60.9" cy="348.05" r="1.4" fill="#111"/>
<circle cx="60.9" cy="355.45" r="1.4" fill="#111"/>
<circle cx="60.9" cy="366.55" r="1.4" fill="#111"/>
<line x1="83.6" y1="329.55" x2="83.6" y2="346.2" stroke="#9a16d6" stroke-width="1.05"/>
<line x1="77.1" y1="344.35" x2="90.1" y2="344.35" stroke="#9a16d6" stroke-width="1.05"/>
<line x1="80.6" y1="329.55" x2="86.6" y2="329.55" stroke="#9a16d6" stroke-width="1.05"/>
<line x1="80.6" y1="346.2" x2="86.6" y2="346.2" stroke="#9a16d6" stroke-width="1.05"/>
<circle cx="83.6" cy="325.85" r="1.4" fill="#9a16d6"/>
<circle cx="83.6" cy="333.25" r="1.4" fill="#9a16d6"/>
<circle cx="80.6" cy="344.35" r="1.4" fill="#9a16d6"/>
<circle cx="83.6" cy="345.46" r="1.4" fill="#9a16d6"/>
<circle cx="86.6" cy="345.46" r="1.4" fill="#9a16d6"/>
<circle cx="83.6" cy="348.05" r="1.4" fill="#9a16d6"/>
<line x1="105.8" y1="329.55" x2="105.8" y2="355.45" stroke="#8f6534" stroke-width="1.05"/>
<line x1="98.8" y1="329.55" x2="112.8" y2="329.55" stroke="#8f6534" stroke-width="1.05"/>
<line x1="102.3" y1="329.55" x2="109.3" y2="329.55" stroke="#8f6534" stroke-width="1.05"/>
<line x1="102.3" y1="355.45" x2="109.3" y2="355.45" stroke="#8f6534" stroke-width="1.05"/>
<circle cx="105.8" cy="312.9" r="1.4" fill="#8f6534"/>
<circle cx="99.8" cy="329.55" r="1.4" fill="#8f6534"/>
<circle cx="102.8" cy="329.55" r="1.4" fill="#8f6534"/>
<circle cx="105.8" cy="329.55" r="1.4" fill="#8f6534"/>
<circle cx="108.8" cy="329.55" r="1.4" fill="#8f6534"/>
<circle cx="111.8" cy="329.55" r="1.4" fill="#8f6534"/>
<circle cx="105.8" cy="348.05" r="1.4" fill="#8f6534"/>
<circle cx="105.8" cy="358.78" r="1.4" fill="#8f6534"/>
<line x1="127.9" y1="372.1" x2="127.9" y2="386.16" stroke="#28b428" stroke-width="1.05"/>
<line x1="120.9" y1="383.2" x2="134.9" y2="383.2" stroke="#28b428" stroke-width="1.05"/>
<line x1="127.89" y1="372.1" x2="127.91" y2="372.1" stroke="#28b428" stroke-width="1.05"/>
<line x1="127.89" y1="386.16" x2="127.91" y2="386.16" stroke="#28b428" stroke-width="1.05"/>
<circle cx="127.9" cy="335.1" r="1.4" fill="#28b428"/>
<circle cx="124.9" cy="372.1" r="1.4" fill="#28b428"/>
<circle cx="130.9" cy="372.1" r="1.4" fill="#28b428"/>
<circle cx="125.4" cy="385.42" r="1.4" fill="#28b428"/>
<circle cx="130.4" cy="385.79" r="1.4" fill="#28b428"/>
<circle cx="127.9" cy="393.56" r="1.4" fill="#28b428"/>
<line x1="124.4" y1="372.1" x2="131.4" y2="372.1" stroke="#28b428" stroke-width="0.9"/>
<line x1="38.9" y1="394.3" x2="38.9" y2="396.3" stroke="#333" stroke-width="0.8"/>
<line x1="60.9" y1="394.3" x2="60.9" y2="396.3" stroke="#333" stroke-width="0.8"/>
<line x1="83.6" y1="394.3" x2="83.6" y2="396.3" stroke="#333" stroke-width="0.8"/>
<line x1="105.8" y1="394.3" x2="105.8" y2="396.3" stroke="#333" stroke-width="0.8"/>
<line x1="127.9" y1="394.3" x2="127.9" y2="396.3" stroke="#333" stroke-width="0.8"/>
<text x="144.2" y="395.1" font-size="5" text-anchor="start" fill="#333" stroke="#333" stroke-width="0.13">Days</text>
<path d="M36.3,296.8 L36.3,293.3 L130.3,293.3 L130.3,296.8" stroke="#555" stroke-width="0.8" fill="none"/>
<text x="83.5" y="291.64" font-size="6.5" text-anchor="middle" font-weight="bold" fill="#1a1a1a" stroke="#1a1a1a" stroke-width="0.1">ns</text>
<path d="M36.3,306.1 L36.3,302.8 L104.4,302.8 L104.4,305.8" stroke="#555" stroke-width="0.8" fill="none"/>
<line x1="60.9" y1="302.8" x2="60.9" y2="305.3" stroke="#555" stroke-width="0.8"/>
<line x1="83.9" y1="302.8" x2="83.9" y2="305.3" stroke="#555" stroke-width="0.8"/>
<circle cx="40.6" cy="299.2" r="1.3" fill="#111"/>
<circle cx="44.5" cy="299.2" r="1.3" fill="#111"/>
<path d="M106.1,309.1 L106.1,306.1 L129.6,306.1 L129.6,309.1" stroke="#555" stroke-width="0.8" fill="none"/>
<circle cx="111.7" cy="302.8" r="1.3" fill="#111"/>
<circle cx="115.7" cy="302.8" r="1.3" fill="#111"/>
<circle cx="119.7" cy="302.8" r="1.3" fill="#111"/>
<circle cx="123.7" cy="302.8" r="1.3" fill="#111"/>
<text x="38.9" y="403.29" font-size="7.2" text-anchor="middle" font-weight="bold" fill="#111" stroke="#111" stroke-width="0.1">0</text>
<text x="60.6" y="403.29" font-size="7.2" text-anchor="middle" font-weight="bold" fill="#111" stroke="#111" stroke-width="0.1">22</text>
<text x="83" y="403.29" font-size="7.2" text-anchor="middle" font-weight="bold" fill="#111" stroke="#111" stroke-width="0.1">41</text>
<text x="105.8" y="403.29" font-size="7.2" text-anchor="middle" font-weight="bold" fill="#111" stroke="#111" stroke-width="0.1">35</text>
<text x="128.3" y="403.29" font-size="7.2" text-anchor="middle" font-weight="bold" fill="#111" stroke="#111" stroke-width="0.1">180</text>
<text x="140.7" y="403.19" font-size="7.2" text-anchor="start" font-weight="bold" fill="#111" stroke="#111" stroke-width="0.1">MST</text>
<text x="60.6" y="408.4" font-size="5" text-anchor="middle" fill="#333" stroke="#333" stroke-width="0.13">(12–42)</text>
<text x="83" y="408.4" font-size="5" text-anchor="middle" fill="#333" stroke="#333" stroke-width="0.13">(28–58)</text>
<text x="105.8" y="408.4" font-size="5" text-anchor="middle" fill="#333" stroke="#333" stroke-width="0.13">(20–50)</text>
<text x="128.3" y="408.4" font-size="5" text-anchor="middle" fill="#333" stroke="#333" stroke-width="0.13">(70–180)</text>
<text x="140.5" y="408.4" font-size="5" text-anchor="start" fill="#333" stroke="#333" stroke-width="0.13">(range)</text>
<text x="40.7" y="408.85" font-size="5.7" text-anchor="end" font-weight="bold" fill="#111" stroke="#111" stroke-width="0.1">At treatment</text>
<text x="40.7" y="414.58" font-size="5.5" text-anchor="end" font-weight="bold" fill="#111" stroke="#111" stroke-width="0.1">START</text>
<line x1="196.3" y1="178.5" x2="196.3" y2="246" stroke="#333" stroke-width="1"/>
<line x1="196.3" y1="246" x2="332.3" y2="246" stroke="#333" stroke-width="1"/>
<line x1="194.7" y1="181.7" x2="196.3" y2="181.7" stroke="#333" stroke-width="0.8"/>
<text x="194.3" y="183.86" font-size="6" text-anchor="end" fill="#333" stroke="#333" stroke-width="0.13">4</text>
<line x1="194.7" y1="192.6" x2="196.3" y2="192.6" stroke="#333" stroke-width="0.8"/>
<text x="194.3" y="194.76" font-size="6" text-anchor="end" fill="#333" stroke="#333" stroke-width="0.13">3</text>
<line x1="194.7" y1="203.6" x2="196.3" y2="203.6" stroke="#333" stroke-width="0.8"/>
<text x="194.3" y="205.76" font-size="6" text-anchor="end" fill="#333" stroke="#333" stroke-width="0.13">2</text>
<line x1="194.7" y1="214.8" x2="196.3" y2="214.8" stroke="#333" stroke-width="0.8"/>
<text x="194.3" y="216.96" font-size="6" text-anchor="end" fill="#333" stroke="#333" stroke-width="0.13">1</text>
<line x1="194.7" y1="230.8" x2="196.3" y2="230.8" stroke="#333" stroke-width="0.8"/>
<text x="194.3" y="232.96" font-size="6" text-anchor="end" fill="#333" stroke="#333" stroke-width="0.13">0.5</text>
<line x1="194.7" y1="246" x2="196.3" y2="246" stroke="#333" stroke-width="0.8"/>
<text x="194.3" y="248.16" font-size="6" text-anchor="end" fill="#333" stroke="#333" stroke-width="0.13">0.0</text>
<text x="178.6" y="211.22" font-size="7" text-anchor="middle" fill="#222" stroke="#222" stroke-width="0.13" transform="rotate(-90 178.6 208.7)">Malignant ascites (mL)</text>
<rect x="194.6" y="214.6" width="3.4" height="1.5" fill="#fff"/>
<line x1="194.4" y1="214.4" x2="198" y2="214.4" stroke="#333" stroke-width="0.8"/>
<line x1="194.4" y1="216.3" x2="198" y2="216.3" stroke="#333" stroke-width="0.8"/>
<rect x="199.5" y="235.2" width="4.7" height="10.8" fill="#e8e8e8" stroke="#c8c8c8" stroke-width="0.8"/>
<rect x="217.2" y="214.8" width="5" height="31.2" fill="#a0a0a0" stroke="#222" stroke-width="1.2"/>
<circle cx="219.6" cy="209.8" r="1.2" fill="#111"/>
<circle cx="219.6" cy="212.8" r="1.2" fill="#111"/>
<rect x="226.8" y="211" width="4.4" height="35" fill="#c4c4c4" stroke="#222" stroke-width="1.2"/>
<line x1="228.8" y1="202" x2="228.8" y2="224.5" stroke="#111" stroke-width="0.8"/>
<line x1="227.3" y1="202" x2="230.3" y2="202" stroke="#111" stroke-width="0.8"/>
<line x1="226.6" y1="224.5" x2="231.1" y2="224.5" stroke="#111" stroke-width="0.8"/>
<circle cx="228.8" cy="197.8" r="1.2" fill="#111"/>
<circle cx="228.8" cy="207.6" r="1.2" fill="#111"/>
<circle cx="228.8" cy="242.4" r="1.2" fill="#111"/>
<rect x="235.4" y="188.5" width="5.1" height="57.5" fill="#a0a0a0" stroke="#222" stroke-width="1.2"/>
<circle cx="236.8" cy="178.5" r="1.2" fill="#111"/>
<circle cx="239" cy="180" r="1.2" fill="#111"/>
<circle cx="237.9" cy="184.1" r="1.2" fill="#111"/>
<circle cx="237.5" cy="189.5" r="1.2" fill="#111"/>
<circle cx="239.5" cy="190.5" r="1.2" fill="#111"/>
<circle cx="237.9" cy="195" r="1.2" fill="#111"/>
<circle cx="237.9" cy="199" r="1.2" fill="#111"/>
<rect x="252.85" y="200.75" width="5.1" height="45.25" fill="#ebbdf8" stroke="#9a16d6" stroke-width="1.1"/>
<line x1="255.3" y1="196.6" x2="255.3" y2="203" stroke="#9a16d6" stroke-width="0.8"/>
<line x1="253.8" y1="196.6" x2="256.8" y2="196.6" stroke="#9a16d6" stroke-width="0.8"/>
<circle cx="255.2" cy="193.1" r="1.2" fill="#9a16d6"/>
<circle cx="255.2" cy="201.7" r="1.2" fill="#9a16d6"/>
<circle cx="255.2" cy="204.3" r="1.2" fill="#9a16d6"/>
<rect x="261.85" y="187.55" width="5.3" height="58.45" fill="#ebbdf8" stroke="#9a16d6" stroke-width="1.1"/>
<circle cx="262.4" cy="181.3" r="1.2" fill="#9a16d6"/>
<circle cx="265.8" cy="183.2" r="1.2" fill="#9a16d6"/>
<circle cx="264.2" cy="184.6" r="1.2" fill="#9a16d6"/>
<circle cx="263.4" cy="186.3" r="1.2" fill="#9a16d6"/>
<circle cx="265.5" cy="187.5" r="1.2" fill="#9a16d6"/>
<circle cx="264.2" cy="198.6" r="1.2" fill="#9a16d6"/>
<rect x="279.85" y="198.65" width="4.7" height="47.35" fill="#e9c28f" stroke="#8f6534" stroke-width="1.1"/>
<line x1="282.2" y1="191.8" x2="282.2" y2="200" stroke="#8f6534" stroke-width="0.8"/>
<line x1="280.7" y1="191.8" x2="283.7" y2="191.8" stroke="#8f6534" stroke-width="0.8"/>
<circle cx="282.2" cy="191.8" r="1.1" fill="#8f6534"/>
<circle cx="282.2" cy="199.5" r="1.1" fill="#8f6534"/>
<circle cx="282.2" cy="205.6" r="1.1" fill="#8f6534"/>
<rect x="288.95" y="193.85" width="4.5" height="52.15" fill="#e9c28f" stroke="#8f6534" stroke-width="1.1"/>
<line x1="288.9" y1="190.9" x2="293.5" y2="190.9" stroke="#8f6534" stroke-width="1.1"/>
<circle cx="289.3" cy="182.2" r="1.1" fill="#8f6534"/>
<circle cx="290.3" cy="184.1" r="1.1" fill="#8f6534"/>
<circle cx="289.3" cy="185.6" r="1.1" fill="#8f6534"/>
<circle cx="290.5" cy="197.6" r="1.1" fill="#8f6534"/>
<circle cx="292" cy="202.9" r="1.1" fill="#8f6534"/>
<circle cx="290.5" cy="207.2" r="1.1" fill="#8f6534"/>
<circle cx="290.5" cy="211.5" r="1.1" fill="#8f6534"/>
<circle cx="306.3" cy="243.6" r="0.9" fill="#999"/>
<circle cx="309.5" cy="243.6" r="0.9" fill="#999"/>
<line x1="307.9" y1="242.3" x2="307.9" y2="245" stroke="#aaa" stroke-width="0.7"/>
<rect x="316.25" y="240.65" width="3.7" height="5.35" fill="#bfeebf" stroke="#28b428" stroke-width="1.1"/>
<line x1="318.1" y1="236" x2="318.1" y2="241" stroke="#28b428" stroke-width="0.8"/>
<circle cx="317.9" cy="234.4" r="1.3" fill="#28b428"/>
<circle cx="317.9" cy="237.7" r="1.3" fill="#28b428"/>
<circle cx="317" cy="241.5" r="1.3" fill="#28b428"/>
<circle cx="319" cy="241.8" r="1.3" fill="#28b428"/>
<circle cx="318" cy="243.5" r="1.3" fill="#28b428"/>
<rect x="325" y="202" width="4.4" height="44" fill="#f0fbf0" stroke="#28b428" stroke-width="1.2"/>
<line x1="324.6" y1="200.6" x2="329.8" y2="200.6" stroke="#28b428" stroke-width="1.6"/>
<circle cx="325.5" cy="190.3" r="1.15" fill="#28b428"/>
<circle cx="326.6" cy="191.4" r="1.15" fill="#28b428"/>
<circle cx="325.5" cy="193.2" r="1.15" fill="#28b428"/>
<circle cx="325.5" cy="196.1" r="1.15" fill="#28b428"/>
<circle cx="326.2" cy="198.5" r="1.15" fill="#28b428"/>
<circle cx="328.3" cy="199.5" r="1.15" fill="#28b428"/>
<circle cx="326.5" cy="201.8" r="1.15" fill="#28b428"/>
<circle cx="327.5" cy="203.5" r="1.15" fill="#28b428"/>
<circle cx="326.8" cy="244.3" r="1.15" fill="#28b428"/>
<line x1="201.6" y1="246" x2="201.6" y2="247.8" stroke="#333" stroke-width="0.8"/>
<line x1="219.6" y1="246" x2="219.6" y2="247.8" stroke="#333" stroke-width="0.8"/>
<line x1="228.8" y1="246" x2="228.8" y2="247.8" stroke="#333" stroke-width="0.8"/>
<line x1="237.9" y1="246" x2="237.9" y2="247.8" stroke="#333" stroke-width="0.8"/>
<line x1="255.5" y1="246" x2="255.5" y2="247.8" stroke="#333" stroke-width="0.8"/>
<line x1="264.2" y1="246" x2="264.2" y2="247.8" stroke="#333" stroke-width="0.8"/>
<line x1="282.3" y1="246" x2="282.3" y2="247.8" stroke="#333" stroke-width="0.8"/>
<line x1="291.1" y1="246" x2="291.1" y2="247.8" stroke="#333" stroke-width="0.8"/>
<line x1="307.9" y1="246" x2="307.9" y2="247.8" stroke="#333" stroke-width="0.8"/>
<line x1="317.4" y1="246" x2="317.4" y2="247.8" stroke="#333" stroke-width="0.8"/>
<line x1="327" y1="246" x2="327" y2="247.8" stroke="#333" stroke-width="0.8"/>
<text x="333.7" y="246.87" font-size="5.2" text-anchor="start" fill="#333" stroke="#333" stroke-width="0.13">Days</text>
<path d="M199.8,161.3 L199.8,158.3 L324.8,158.3 L324.8,161.3" stroke="#555" stroke-width="0.8" fill="none"/>
<circle cx="258.1" cy="154.5" r="1.3" fill="#111"/>
<circle cx="262.1" cy="154.5" r="1.3" fill="#111"/>
<path d="M199.8,168.4 L199.8,165.4 L313,165.4 L313,168.6" stroke="#555" stroke-width="0.8" fill="none"/>
<text x="260.5" y="164.34" font-size="6.5" text-anchor="middle" font-weight="bold" fill="#1a1a1a" stroke="#1a1a1a" stroke-width="0.1">ns</text>
<path d="M199.8,175.5 L199.8,172.5 L288.8,172.5 L288.8,175.8" stroke="#555" stroke-width="0.8" fill="none"/>
<line x1="236.7" y1="172.5" x2="236.7" y2="175" stroke="#555" stroke-width="0.8"/>
<line x1="263.9" y1="172.5" x2="263.9" y2="175" stroke="#555" stroke-width="0.8"/>
<circle cx="203.4" cy="170.4" r="1.3" fill="#111"/>
<circle cx="207.33" cy="170.4" r="1.3" fill="#111"/>
<circle cx="211.26" cy="170.4" r="1.3" fill="#111"/>
<circle cx="215.19" cy="170.4" r="1.3" fill="#111"/>
<path d="M290.5,179.3 L290.5,176.1 L314.7,176.1 L314.7,179.3" stroke="#555" stroke-width="0.8" fill="none"/>
<circle cx="298.2" cy="172.7" r="1.3" fill="#111"/>
<circle cx="302.4" cy="172.7" r="1.3" fill="#111"/>
<circle cx="306.6" cy="172.7" r="1.3" fill="#111"/>
<path d="M315.6,186.9 L315.6,183.9 L326.5,183.9 L326.5,186.9" stroke="#555" stroke-width="0.8" fill="none"/>
<circle cx="321.3" cy="181" r="1.3" fill="#111"/>
<text x="201.5" y="254.83" font-size="6.2" text-anchor="middle" fill="#222" stroke="#222" stroke-width="0.13">0</text>
<text x="219.5" y="254.83" font-size="6.2" text-anchor="middle" fill="#222" stroke="#222" stroke-width="0.13">3</text>
<text x="229.1" y="254.83" font-size="6.2" text-anchor="middle" fill="#222" stroke="#222" stroke-width="0.13">10</text>
<text x="238.1" y="254.83" font-size="6.2" text-anchor="middle" font-weight="bold" fill="#222" stroke="#222" stroke-width="0.1">15</text>
<text x="255.3" y="254.83" font-size="6.2" text-anchor="middle" fill="#222" stroke="#222" stroke-width="0.13">10</text>
<text x="264.5" y="254.83" font-size="6.2" text-anchor="middle" font-weight="bold" fill="#222" stroke="#222" stroke-width="0.1">21</text>
<text x="282.4" y="254.83" font-size="6.2" text-anchor="middle" fill="#222" stroke="#222" stroke-width="0.13">10</text>
<text x="291.2" y="254.83" font-size="6.2" text-anchor="middle" font-weight="bold" fill="#222" stroke="#222" stroke-width="0.1">21</text>
<text x="309.4" y="254.83" font-size="6.2" text-anchor="middle" fill="#222" stroke="#222" stroke-width="0.13">10</text>
<text x="317.7" y="254.83" font-size="6.2" text-anchor="middle" fill="#222" stroke="#222" stroke-width="0.13">17</text>
<text x="326.8" y="254.83" font-size="6.2" text-anchor="middle" font-weight="bold" fill="#222" stroke="#222" stroke-width="0.1">23</text>
<text x="237" y="266.23" font-size="6.2" text-anchor="middle" font-weight="bold" fill="#111" stroke="#111" stroke-width="0.1" transform="rotate(-90 237 264)">MST</text>
<text x="244.6" y="266.03" font-size="4.8" text-anchor="middle" fill="#333" stroke="#333" stroke-width="0.13" transform="rotate(-90 244.6 264.3)">(14–22)</text>
<text x="264.6" y="266.23" font-size="6.2" text-anchor="middle" font-weight="bold" fill="#111" stroke="#111" stroke-width="0.1" transform="rotate(-90 264.6 264)">MST</text>
<text x="272.2" y="266.03" font-size="4.8" text-anchor="middle" fill="#333" stroke="#333" stroke-width="0.13" transform="rotate(-90 272.2 264.3)">(16–24)</text>
<text x="291" y="266.23" font-size="6.2" text-anchor="middle" font-weight="bold" fill="#111" stroke="#111" stroke-width="0.1" transform="rotate(-90 291 264)">MST</text>
<text x="298.6" y="266.03" font-size="4.8" text-anchor="middle" fill="#333" stroke="#333" stroke-width="0.13" transform="rotate(-90 298.6 264.3)">(14–35)</text>
<text x="326.3" y="266.23" font-size="6.2" text-anchor="middle" font-weight="bold" fill="#111" stroke="#111" stroke-width="0.1" transform="rotate(-90 326.3 264)">MST</text>
<text x="333.9" y="266.03" font-size="4.8" text-anchor="middle" fill="#333" stroke="#333" stroke-width="0.13" transform="rotate(-90 333.9 264.3)">(18–180)</text>
<text x="203.7" y="260.75" font-size="5.7" text-anchor="end" font-weight="bold" fill="#111" stroke="#111" stroke-width="0.1">At treatment</text>
<text x="203.7" y="266.78" font-size="5.5" text-anchor="end" font-weight="bold" fill="#111" stroke="#111" stroke-width="0.1">START</text>
<line x1="194.3" y1="301.6" x2="194.3" y2="393.4" stroke="#333" stroke-width="1"/>
<line x1="194.3" y1="393.4" x2="331.4" y2="393.4" stroke="#333" stroke-width="1"/>
<line x1="192.7" y1="301.6" x2="194.3" y2="301.6" stroke="#333" stroke-width="0.8"/>
<text x="192.3" y="303.76" font-size="6" text-anchor="end" fill="#333" stroke="#333" stroke-width="0.13">20</text>
<line x1="192.7" y1="324.55" x2="194.3" y2="324.55" stroke="#333" stroke-width="0.8"/>
<text x="192.3" y="326.71" font-size="6" text-anchor="end" fill="#333" stroke="#333" stroke-width="0.13">15</text>
<line x1="192.7" y1="347.5" x2="194.3" y2="347.5" stroke="#333" stroke-width="0.8"/>
<text x="192.3" y="349.66" font-size="6" text-anchor="end" fill="#333" stroke="#333" stroke-width="0.13">10</text>
<line x1="192.7" y1="370.45" x2="194.3" y2="370.45" stroke="#333" stroke-width="0.8"/>
<text x="192.3" y="372.61" font-size="6" text-anchor="end" fill="#333" stroke="#333" stroke-width="0.13">5</text>
<line x1="192.7" y1="393.4" x2="194.3" y2="393.4" stroke="#333" stroke-width="0.8"/>
<text x="192.3" y="395.56" font-size="6" text-anchor="end" fill="#333" stroke="#333" stroke-width="0.13">0</text>
<text x="175.9" y="347.3" font-size="6.4" text-anchor="middle" fill="#222" stroke="#222" stroke-width="0.13" transform="rotate(-90 175.9 345)">Abdominal metastases (score)</text>
<circle cx="198.9" cy="386" r="1.3" fill="#a8a8a8"/>
<circle cx="200.3" cy="385.3" r="1.3" fill="#a8a8a8"/>
<circle cx="201.5" cy="384.3" r="1.3" fill="#a8a8a8"/>
<circle cx="199.5" cy="386.8" r="1.3" fill="#a8a8a8"/>
<line x1="218.1" y1="364.48" x2="218.1" y2="372.29" stroke="#111" stroke-width="1.05"/>
<line x1="216.3" y1="364.48" x2="219.9" y2="364.48" stroke="#111" stroke-width="1.05"/>
<line x1="216.3" y1="372.29" x2="219.9" y2="372.29" stroke="#111" stroke-width="1.05"/>
<line x1="215.2" y1="366.78" x2="221" y2="366.78" stroke="#111" stroke-width="1.05"/>
<circle cx="216.3" cy="364.02" r="1.35" fill="#111"/>
<circle cx="218.7" cy="366.32" r="1.35" fill="#111"/>
<circle cx="218.1" cy="373.2" r="1.35" fill="#111"/>
<line x1="226.9" y1="347.5" x2="226.9" y2="358.98" stroke="#111" stroke-width="1.05"/>
<line x1="225.3" y1="347.5" x2="228.5" y2="347.5" stroke="#111" stroke-width="1.05"/>
<line x1="225.3" y1="358.98" x2="228.5" y2="358.98" stroke="#111" stroke-width="1.05"/>
<line x1="224.4" y1="352.09" x2="229.4" y2="352.09" stroke="#111" stroke-width="1.05"/>
<circle cx="226.9" cy="347.5" r="1.35" fill="#111"/>
<circle cx="226.9" cy="352.09" r="1.35" fill="#111"/>
<circle cx="226.9" cy="358.98" r="1.35" fill="#111"/>
<line x1="235.9" y1="342.91" x2="235.9" y2="356.68" stroke="#111" stroke-width="1.05"/>
<line x1="233.9" y1="342.91" x2="237.9" y2="342.91" stroke="#111" stroke-width="1.05"/>
<line x1="233.9" y1="356.68" x2="237.9" y2="356.68" stroke="#111" stroke-width="1.05"/>
<line x1="232.9" y1="349.8" x2="238.9" y2="349.8" stroke="#111" stroke-width="1.05"/>
<circle cx="234.1" cy="342.91" r="1.35" fill="#111"/>
<circle cx="237.7" cy="342.91" r="1.35" fill="#111"/>
<circle cx="235.9" cy="308.49" r="1.35" fill="#111"/>
<circle cx="233.7" cy="349.34" r="1.35" fill="#111"/>
<circle cx="235.9" cy="351.17" r="1.35" fill="#111"/>
<circle cx="238.1" cy="349.34" r="1.35" fill="#111"/>
<circle cx="235.9" cy="356.68" r="1.35" fill="#111"/>
<line x1="253.6" y1="361.27" x2="253.6" y2="377.33" stroke="#9a16d6" stroke-width="1.05"/>
<line x1="252" y1="361.27" x2="255.2" y2="361.27" stroke="#9a16d6" stroke-width="1.05"/>
<line x1="252" y1="377.33" x2="255.2" y2="377.33" stroke="#9a16d6" stroke-width="1.05"/>
<line x1="251.1" y1="377.33" x2="256.1" y2="377.33" stroke="#9a16d6" stroke-width="1.05"/>
<circle cx="253.6" cy="361.27" r="1.35" fill="#9a16d6"/>
<circle cx="251.6" cy="377.79" r="1.35" fill="#9a16d6"/>
<circle cx="255.2" cy="375.5" r="1.35" fill="#9a16d6"/>
<circle cx="253.6" cy="376.88" r="1.35" fill="#9a16d6"/>
<line x1="262.3" y1="354.38" x2="262.3" y2="363.56" stroke="#9a16d6" stroke-width="1.05"/>
<line x1="260.7" y1="354.38" x2="263.9" y2="354.38" stroke="#9a16d6" stroke-width="1.05"/>
<line x1="260.7" y1="363.56" x2="263.9" y2="363.56" stroke="#9a16d6" stroke-width="1.05"/>
<line x1="259.8" y1="358.98" x2="264.8" y2="358.98" stroke="#9a16d6" stroke-width="1.05"/>
<circle cx="262.3" cy="347.5" r="1.35" fill="#9a16d6"/>
<circle cx="260.6" cy="356.68" r="1.35" fill="#9a16d6"/>
<circle cx="264" cy="355.76" r="1.35" fill="#9a16d6"/>
<circle cx="262.3" cy="358.98" r="1.35" fill="#9a16d6"/>
<circle cx="261.1" cy="360.35" r="1.35" fill="#9a16d6"/>
<circle cx="263.9" cy="362.19" r="1.35" fill="#9a16d6"/>
<circle cx="262.3" cy="368.15" r="1.35" fill="#9a16d6"/>
<line x1="280.1" y1="354.38" x2="280.1" y2="377.33" stroke="#8f6534" stroke-width="1.05"/>
<line x1="278.5" y1="354.38" x2="281.7" y2="354.38" stroke="#8f6534" stroke-width="1.05"/>
<line x1="278.5" y1="377.33" x2="281.7" y2="377.33" stroke="#8f6534" stroke-width="1.05"/>
<line x1="277.5" y1="365.86" x2="282.7" y2="365.86" stroke="#8f6534" stroke-width="1.05"/>
<circle cx="280.1" cy="354.38" r="1.35" fill="#8f6534"/>
<circle cx="280.1" cy="377.33" r="1.35" fill="#8f6534"/>
<line x1="289.1" y1="342.91" x2="289.1" y2="363.56" stroke="#8f6534" stroke-width="1.05"/>
<line x1="287.1" y1="342.91" x2="291.1" y2="342.91" stroke="#8f6534" stroke-width="1.05"/>
<line x1="287.1" y1="363.56" x2="291.1" y2="363.56" stroke="#8f6534" stroke-width="1.05"/>
<line x1="286.5" y1="349.8" x2="291.7" y2="349.8" stroke="#8f6534" stroke-width="1.05"/>
<circle cx="287.5" cy="338.32" r="1.35" fill="#8f6534"/>
<circle cx="290.9" cy="338.32" r="1.35" fill="#8f6534"/>
<circle cx="289.1" cy="342.91" r="1.35" fill="#8f6534"/>
<circle cx="289.1" cy="349.8" r="1.35" fill="#8f6534"/>
<circle cx="287.5" cy="361.27" r="1.35" fill="#8f6534"/>
<circle cx="290.7" cy="363.56" r="1.35" fill="#8f6534"/>
<circle cx="289.1" cy="368.15" r="1.35" fill="#8f6534"/>
<circle cx="305.2" cy="379.5" r="1.3" fill="#28b428"/>
<circle cx="307" cy="380.9" r="1.3" fill="#28b428"/>
<circle cx="305.2" cy="383" r="1.3" fill="#28b428"/>
<circle cx="307.5" cy="382.5" r="1.3" fill="#28b428"/>
<circle cx="306" cy="381.2" r="1.3" fill="#28b428"/>
<circle cx="314.2" cy="377.2" r="1.3" fill="#28b428"/>
<circle cx="316.4" cy="378.5" r="1.3" fill="#28b428"/>
<circle cx="317.2" cy="381" r="1.3" fill="#28b428"/>
<circle cx="315" cy="382.3" r="1.3" fill="#28b428"/>
<circle cx="316" cy="384.2" r="1.3" fill="#28b428"/>
<line x1="315.8" y1="377" x2="315.8" y2="384.5" stroke="#28b428" stroke-width="0.8"/>
<circle cx="324.6" cy="359" r="1.3" fill="#28b428"/>
<circle cx="323.2" cy="377.3" r="1.3" fill="#28b428"/>
<circle cx="325.8" cy="377.3" r="1.3" fill="#28b428"/>
<circle cx="324.5" cy="379.5" r="1.3" fill="#28b428"/>
<circle cx="323.2" cy="381.3" r="1.3" fill="#28b428"/>
<circle cx="325.8" cy="381.8" r="1.3" fill="#28b428"/>
<circle cx="324.6" cy="383" r="1.3" fill="#28b428"/>
<circle cx="324.6" cy="386.5" r="1.3" fill="#28b428"/>
<circle cx="324.6" cy="393.4" r="1.3" fill="#28b428"/>
<line x1="324.6" y1="377" x2="324.6" y2="386" stroke="#28b428" stroke-width="0.8"/>
<line x1="200.8" y1="393.4" x2="200.8" y2="395.2" stroke="#333" stroke-width="0.8"/>
<line x1="218.1" y1="393.4" x2="218.1" y2="395.2" stroke="#333" stroke-width="0.8"/>
<line x1="226.9" y1="393.4" x2="226.9" y2="395.2" stroke="#333" stroke-width="0.8"/>
<line x1="235.7" y1="393.4" x2="235.7" y2="395.2" stroke="#333" stroke-width="0.8"/>
<line x1="253.6" y1="393.4" x2="253.6" y2="395.2" stroke="#333" stroke-width="0.8"/>
<line x1="262.3" y1="393.4" x2="262.3" y2="395.2" stroke="#333" stroke-width="0.8"/>
<line x1="280.1" y1="393.4" x2="280.1" y2="395.2" stroke="#333" stroke-width="0.8"/>
<line x1="289.1" y1="393.4" x2="289.1" y2="395.2" stroke="#333" stroke-width="0.8"/>
<line x1="306.5" y1="393.4" x2="306.5" y2="395.2" stroke="#333" stroke-width="0.8"/>
<line x1="315.8" y1="393.4" x2="315.8" y2="395.2" stroke="#333" stroke-width="0.8"/>
<line x1="324.6" y1="393.4" x2="324.6" y2="395.2" stroke="#333" stroke-width="0.8"/>
<text x="332" y="394.27" font-size="5.2" text-anchor="start" fill="#333" stroke="#333" stroke-width="0.13">Days</text>
<path d="M197.7,294 L197.7,290.8 L323,290.8 L323,294.3" stroke="#555" stroke-width="0.8" fill="none"/>
<text x="260.9" y="290.04" font-size="6.5" text-anchor="middle" font-weight="bold" fill="#1a1a1a" stroke="#1a1a1a" stroke-width="0.1">ns</text>
<path d="M198.5,303.2 L198.5,299.9 L287.6,299.9 L287.6,303.2" stroke="#555" stroke-width="0.8" fill="none"/>
<line x1="235.4" y1="299.9" x2="235.4" y2="302.4" stroke="#555" stroke-width="0.8"/>
<circle cx="202.2" cy="297" r="1.3" fill="#111"/>
<circle cx="206.2" cy="297" r="1.3" fill="#111"/>
<circle cx="210.2" cy="297" r="1.3" fill="#111"/>
<path d="M289.2,307.6 L289.2,304.4 L322.7,304.4 L322.7,307.8" stroke="#555" stroke-width="0.8" fill="none"/>
<circle cx="302" cy="301.1" r="1.3" fill="#111"/>
<circle cx="306.1" cy="301.1" r="1.3" fill="#111"/>
<circle cx="310.2" cy="301.1" r="1.3" fill="#111"/>
<path d="M303.4,354.8 L303.4,352.4 L313.3,352.4 L313.3,354.8" stroke="#555" stroke-width="0.8" fill="none"/>
<path d="M314.8,354.8 L314.8,352.4 L324.6,352.4 L324.6,354.8" stroke="#555" stroke-width="0.8" fill="none"/>
<text x="308.7" y="348.96" font-size="6" text-anchor="middle" font-weight="bold" fill="#1a1a1a" stroke="#1a1a1a" stroke-width="0.1">ns</text>
<text x="319.7" y="348.96" font-size="6" text-anchor="middle" font-weight="bold" fill="#1a1a1a" stroke="#1a1a1a" stroke-width="0.1">ns</text>
<text x="200.8" y="402.4" font-size="6.1" text-anchor="middle" font-weight="bold" fill="#222" stroke="#222" stroke-width="0.1">0</text>
<text x="218.1" y="402.4" font-size="6.1" text-anchor="middle" fill="#222" stroke="#222" stroke-width="0.13">3</text>
<text x="226.4" y="402.4" font-size="6.1" text-anchor="middle" fill="#222" stroke="#222" stroke-width="0.13">10</text>
<text x="235.4" y="402.4" font-size="6.1" text-anchor="middle" font-weight="bold" fill="#222" stroke="#222" stroke-width="0.1">15</text>
<text x="253" y="402.4" font-size="6.1" text-anchor="middle" fill="#222" stroke="#222" stroke-width="0.13">10</text>
<text x="261.7" y="402.4" font-size="6.1" text-anchor="middle" font-weight="bold" fill="#222" stroke="#222" stroke-width="0.1">21</text>
<text x="280.2" y="402.4" font-size="6.1" text-anchor="middle" fill="#222" stroke="#222" stroke-width="0.13">10</text>
<text x="288.6" y="402.4" font-size="6.1" text-anchor="middle" font-weight="bold" fill="#222" stroke="#222" stroke-width="0.1">21</text>
<text x="307.1" y="402.4" font-size="6.1" text-anchor="middle" fill="#222" stroke="#222" stroke-width="0.13">10</text>
<text x="315.3" y="402.4" font-size="6.1" text-anchor="middle" fill="#222" stroke="#222" stroke-width="0.13">17</text>
<text x="324.8" y="402.4" font-size="6.1" text-anchor="middle" font-weight="bold" fill="#222" stroke="#222" stroke-width="0.1">23</text>
<text x="235.4" y="412.73" font-size="6.2" text-anchor="middle" font-weight="bold" fill="#111" stroke="#111" stroke-width="0.1" transform="rotate(-90 235.4 410.5)">MST</text>
<text x="243" y="413.23" font-size="4.8" text-anchor="middle" fill="#333" stroke="#333" stroke-width="0.13" transform="rotate(-90 243 411.5)">(14–22)</text>
<text x="260.8" y="412.73" font-size="6.2" text-anchor="middle" font-weight="bold" fill="#111" stroke="#111" stroke-width="0.1" transform="rotate(-90 260.8 410.5)">MST</text>
<text x="268.4" y="413.23" font-size="4.8" text-anchor="middle" fill="#333" stroke="#333" stroke-width="0.13" transform="rotate(-90 268.4 411.5)">(16–24)</text>
<text x="287.8" y="412.73" font-size="6.2" text-anchor="middle" font-weight="bold" fill="#111" stroke="#111" stroke-width="0.1" transform="rotate(-90 287.8 410.5)">MST</text>
<text x="295.4" y="413.23" font-size="4.8" text-anchor="middle" fill="#333" stroke="#333" stroke-width="0.13" transform="rotate(-90 295.4 411.5)">(14–35)</text>
<text x="324.8" y="412.73" font-size="6.2" text-anchor="middle" font-weight="bold" fill="#111" stroke="#111" stroke-width="0.1" transform="rotate(-90 324.8 410.5)">MST</text>
<text x="332.4" y="413.23" font-size="4.8" text-anchor="middle" fill="#333" stroke="#333" stroke-width="0.13" transform="rotate(-90 332.4 411.5)">(18–180)</text>
<text x="202.5" y="408.65" font-size="5.7" text-anchor="end" font-weight="bold" fill="#111" stroke="#111" stroke-width="0.1">At treatment</text>
<text x="202.5" y="414.68" font-size="5.5" text-anchor="end" font-weight="bold" fill="#111" stroke="#111" stroke-width="0.1">START</text>
<line x1="382.5" y1="177" x2="382.5" y2="246.2" stroke="#333" stroke-width="1"/>
<line x1="382.5" y1="246.2" x2="493.1" y2="246.2" stroke="#333" stroke-width="1"/>
<line x1="380.9" y1="182.7" x2="382.5" y2="182.7" stroke="#333" stroke-width="0.8"/>
<text x="380.5" y="184.86" font-size="6" text-anchor="end" fill="#333" stroke="#333" stroke-width="0.13">3</text>
<line x1="380.9" y1="199.5" x2="382.5" y2="199.5" stroke="#333" stroke-width="0.8"/>
<text x="380.5" y="201.66" font-size="6" text-anchor="end" fill="#333" stroke="#333" stroke-width="0.13">2</text>
<line x1="380.9" y1="217.3" x2="382.5" y2="217.3" stroke="#333" stroke-width="0.8"/>
<text x="380.5" y="219.46" font-size="6" text-anchor="end" fill="#333" stroke="#333" stroke-width="0.13">1.0</text>
<line x1="380.9" y1="232" x2="382.5" y2="232" stroke="#333" stroke-width="0.8"/>
<text x="380.5" y="234.16" font-size="6" text-anchor="end" fill="#333" stroke="#333" stroke-width="0.13">0.5</text>
<line x1="380.9" y1="246.2" x2="382.5" y2="246.2" stroke="#333" stroke-width="0.8"/>
<text x="380.5" y="248.36" font-size="6" text-anchor="end" fill="#333" stroke="#333" stroke-width="0.13">0.0</text>
<text x="359.7" y="213.48" font-size="6.9" text-anchor="middle" fill="#222" stroke="#222" stroke-width="0.13" transform="rotate(-90 359.7 211)">Malignant ascites (mL)</text>
<rect x="381" y="213.6" width="3.6" height="1.4" fill="#fff"/>
<line x1="380.9" y1="213.5" x2="384.7" y2="213.5" stroke="#333" stroke-width="0.8"/>
<line x1="380.9" y1="215.1" x2="384.7" y2="215.1" stroke="#333" stroke-width="0.8"/>
<rect x="388.7" y="242.3" width="10.9" height="3.9" fill="#efefef" stroke="#c0c0c0" stroke-width="0.8"/>
<circle cx="391" cy="243.6" r="0.9" fill="#bbb"/>
<circle cx="394" cy="243.6" r="0.9" fill="#bbb"/>
<circle cx="397" cy="243.6" r="0.9" fill="#bbb"/>
<rect x="411.25" y="197.95" width="9.2" height="48.25" fill="#dcdcdc" stroke="#222" stroke-width="1.5"/>
<circle cx="412" cy="194.5" r="1.3" fill="#111"/>
<circle cx="414" cy="195.2" r="1.3" fill="#111"/>
<circle cx="416" cy="194.3" r="1.3" fill="#111"/>
<circle cx="418" cy="195" r="1.3" fill="#111"/>
<circle cx="420" cy="194.5" r="1.3" fill="#111"/>
<circle cx="413.5" cy="197" r="1.3" fill="#111"/>
<circle cx="417.5" cy="197.3" r="1.3" fill="#111"/>
<circle cx="415.9" cy="205.6" r="1.3" fill="#111"/>
<rect x="433.75" y="195.45" width="9.1" height="50.75" fill="#ebbdf8" stroke="#9a16d6" stroke-width="1.3"/>
<circle cx="436.6" cy="189.1" r="1.3" fill="#9a16d6"/>
<circle cx="439.5" cy="191.4" r="1.3" fill="#9a16d6"/>
<circle cx="435" cy="194.5" r="1.3" fill="#9a16d6"/>
<circle cx="441.5" cy="194.5" r="1.3" fill="#9a16d6"/>
<circle cx="438.3" cy="199.5" r="1.3" fill="#9a16d6"/>
<rect x="455.75" y="197.55" width="9.1" height="48.65" fill="#e9c28f" stroke="#8f6534" stroke-width="1.3"/>
<line x1="460.3" y1="193.1" x2="460.3" y2="200" stroke="#8f6534" stroke-width="0.8"/>
<line x1="458.3" y1="193.1" x2="462.3" y2="193.1" stroke="#8f6534" stroke-width="0.8"/>
<circle cx="460.3" cy="186.5" r="1.2" fill="#8f6534"/>
<circle cx="458" cy="196.5" r="1.2" fill="#8f6534"/>
<circle cx="462.5" cy="196.8" r="1.2" fill="#8f6534"/>
<circle cx="460.3" cy="199" r="1.2" fill="#8f6534"/>
<circle cx="460.3" cy="202.5" r="1.2" fill="#8f6534"/>
<rect x="477.7" y="203.9" width="9.1" height="42.3" fill="#d3f5d3" stroke="#28b428" stroke-width="1.2"/>
<line x1="482.2" y1="195.5" x2="482.2" y2="210" stroke="#28b428" stroke-width="0.8"/>
<line x1="480.2" y1="195.5" x2="484.2" y2="195.5" stroke="#28b428" stroke-width="0.8"/>
<line x1="480.2" y1="210" x2="484.2" y2="210" stroke="#28b428" stroke-width="0.8"/>
<circle cx="479.3" cy="179.6" r="1.2" fill="#28b428"/>
<circle cx="485" cy="181" r="1.2" fill="#28b428"/>
<circle cx="482.2" cy="199" r="1.2" fill="#28b428"/>
<circle cx="482.2" cy="203" r="1.2" fill="#28b428"/>
<circle cx="482.2" cy="206.1" r="1.2" fill="#28b428"/>
<circle cx="482.2" cy="226.3" r="1.2" fill="#28b428"/>
<line x1="394" y1="246.2" x2="394" y2="248.2" stroke="#333" stroke-width="0.8"/>
<line x1="415.9" y1="246.2" x2="415.9" y2="248.2" stroke="#333" stroke-width="0.8"/>
<line x1="438.3" y1="246.2" x2="438.3" y2="248.2" stroke="#333" stroke-width="0.8"/>
<line x1="460.3" y1="246.2" x2="460.3" y2="248.2" stroke="#333" stroke-width="0.8"/>
<line x1="482.2" y1="246.2" x2="482.2" y2="248.2" stroke="#333" stroke-width="0.8"/>
<text x="496.6" y="246.4" font-size="5" text-anchor="start" fill="#333" stroke="#333" stroke-width="0.13">Days</text>
<path d="M388.3,163.7 L388.3,160.4 L481.6,160.4 L481.6,163.7" stroke="#555" stroke-width="0.8" fill="none"/>
<circle cx="432" cy="156.8" r="1.3" fill="#111"/>
<circle cx="436.5" cy="156.8" r="1.3" fill="#111"/>
<circle cx="441" cy="156.8" r="1.3" fill="#111"/>
<path d="M388.3,174.1 L388.3,171 L462.5,171 L462.5,173.7" stroke="#555" stroke-width="0.8" fill="none"/>
<line x1="417.3" y1="171" x2="417.3" y2="173.5" stroke="#555" stroke-width="0.8"/>
<line x1="437.8" y1="171" x2="437.8" y2="173.5" stroke="#555" stroke-width="0.8"/>
<circle cx="391.4" cy="167.1" r="1.3" fill="#111"/>
<circle cx="395.5" cy="167.1" r="1.3" fill="#111"/>
<circle cx="399.6" cy="167.1" r="1.3" fill="#111"/>
<text x="394" y="254.89" font-size="7.2" text-anchor="middle" fill="#333" stroke="#333" stroke-width="0.13">0</text>
<text x="415.9" y="255.19" font-size="7.2" text-anchor="middle" font-weight="bold" fill="#111" stroke="#111" stroke-width="0.1">14</text>
<text x="437.8" y="255.19" font-size="7.2" text-anchor="middle" font-weight="bold" fill="#111" stroke="#111" stroke-width="0.1">14</text>
<text x="460.3" y="255.19" font-size="7.2" text-anchor="middle" font-weight="bold" fill="#111" stroke="#111" stroke-width="0.1">17</text>
<text x="482.2" y="255.19" font-size="7.2" text-anchor="middle" font-weight="bold" fill="#111" stroke="#111" stroke-width="0.1">99</text>
<text x="494.9" y="255.19" font-size="7.2" text-anchor="start" font-weight="bold" fill="#111" stroke="#111" stroke-width="0.1">MST</text>
<text x="415.9" y="262" font-size="5" text-anchor="middle" fill="#333" stroke="#333" stroke-width="0.13">(10–50)</text>
<text x="437.8" y="262" font-size="5" text-anchor="middle" fill="#333" stroke="#333" stroke-width="0.13">(14–18)</text>
<text x="460.3" y="262" font-size="5" text-anchor="middle" fill="#333" stroke="#333" stroke-width="0.13">(11–84)</text>
<text x="482.2" y="262" font-size="5" text-anchor="middle" fill="#333" stroke="#333" stroke-width="0.13">(15–213)</text>
<text x="494.4" y="262" font-size="5" text-anchor="start" fill="#333" stroke="#333" stroke-width="0.13">(range)</text>
<text x="396" y="260.25" font-size="5.7" text-anchor="end" font-weight="bold" fill="#111" stroke="#111" stroke-width="0.1">At treatment</text>
<text x="396" y="266.58" font-size="5.5" text-anchor="end" font-weight="bold" fill="#111" stroke="#111" stroke-width="0.1">START</text>
<line x1="381.6" y1="297.5" x2="381.6" y2="393.6" stroke="#333" stroke-width="1"/>
<line x1="381.6" y1="393.6" x2="494.8" y2="393.6" stroke="#333" stroke-width="1"/>
<line x1="380" y1="297.5" x2="381.6" y2="297.5" stroke="#333" stroke-width="0.8"/>
<text x="379.6" y="299.66" font-size="6" text-anchor="end" fill="#333" stroke="#333" stroke-width="0.13">25</text>
<line x1="380" y1="311.3" x2="381.6" y2="311.3" stroke="#333" stroke-width="0.8"/>
<text x="379.6" y="313.46" font-size="6" text-anchor="end" fill="#333" stroke="#333" stroke-width="0.13">20</text>
<line x1="380" y1="323.4" x2="381.6" y2="323.4" stroke="#333" stroke-width="0.8"/>
<text x="379.6" y="325.56" font-size="6" text-anchor="end" fill="#333" stroke="#333" stroke-width="0.13">15</text>
<line x1="380" y1="347" x2="381.6" y2="347" stroke="#333" stroke-width="0.8"/>
<text x="379.6" y="349.16" font-size="6" text-anchor="end" fill="#333" stroke="#333" stroke-width="0.13">10</text>
<line x1="380" y1="370.5" x2="381.6" y2="370.5" stroke="#333" stroke-width="0.8"/>
<text x="379.6" y="372.66" font-size="6" text-anchor="end" fill="#333" stroke="#333" stroke-width="0.13">5</text>
<line x1="380" y1="393.6" x2="381.6" y2="393.6" stroke="#333" stroke-width="0.8"/>
<text x="379.6" y="395.76" font-size="6" text-anchor="end" fill="#333" stroke="#333" stroke-width="0.13">0</text>
<text x="360.3" y="345.8" font-size="6.4" text-anchor="middle" fill="#222" stroke="#222" stroke-width="0.13" transform="rotate(-90 360.3 343.5)">Abdominal metastases (score)</text>
<line x1="396" y1="365" x2="396" y2="370.5" stroke="#b0b0b0" stroke-width="1.05"/>
<line x1="389.5" y1="367.7" x2="402.5" y2="367.7" stroke="#b0b0b0" stroke-width="1.05"/>
<line x1="393" y1="365" x2="399" y2="365" stroke="#b0b0b0" stroke-width="1.05"/>
<line x1="393" y1="370.5" x2="399" y2="370.5" stroke="#b0b0b0" stroke-width="1.05"/>
<circle cx="393.2" cy="365.5" r="1.4" fill="#b0b0b0"/>
<circle cx="398.8" cy="365.5" r="1.4" fill="#b0b0b0"/>
<circle cx="393.2" cy="370" r="1.4" fill="#b0b0b0"/>
<circle cx="398.8" cy="370" r="1.4" fill="#b0b0b0"/>
<line x1="416.8" y1="323.1" x2="416.8" y2="351.1" stroke="#111" stroke-width="1.05"/>
<line x1="410" y1="337.2" x2="423.6" y2="337.2" stroke="#111" stroke-width="1.05"/>
<line x1="413.6" y1="323.1" x2="420" y2="323.1" stroke="#111" stroke-width="1.05"/>
<line x1="413.6" y1="351.1" x2="420" y2="351.1" stroke="#111" stroke-width="1.05"/>
<circle cx="414.2" cy="323.1" r="1.4" fill="#111"/>
<circle cx="419.7" cy="323.1" r="1.4" fill="#111"/>
<circle cx="414.2" cy="334.8" r="1.4" fill="#111"/>
<circle cx="419.7" cy="337.3" r="1.4" fill="#111"/>
<circle cx="414.2" cy="348.7" r="1.4" fill="#111"/>
<circle cx="419.7" cy="351.1" r="1.4" fill="#111"/>
<circle cx="417.3" cy="356" r="1.4" fill="#111"/>
<line x1="438.3" y1="339.3" x2="438.3" y2="353.3" stroke="#9a16d6" stroke-width="1.05"/>
<line x1="432.1" y1="341.3" x2="444.5" y2="341.3" stroke="#9a16d6" stroke-width="1.05"/>
<line x1="432.3" y1="339.3" x2="444.3" y2="339.3" stroke="#9a16d6" stroke-width="1.05"/>
<line x1="432.3" y1="353.3" x2="444.3" y2="353.3" stroke="#9a16d6" stroke-width="1.05"/>
<circle cx="438.3" cy="332.4" r="1.4" fill="#9a16d6"/>
<circle cx="433" cy="339.5" r="1.4" fill="#9a16d6"/>
<circle cx="444.1" cy="339.5" r="1.4" fill="#9a16d6"/>
<circle cx="438.3" cy="341.8" r="1.4" fill="#9a16d6"/>
<circle cx="438.3" cy="348" r="1.4" fill="#9a16d6"/>
<circle cx="435.6" cy="353.3" r="1.4" fill="#9a16d6"/>
<circle cx="441.3" cy="353.3" r="1.4" fill="#9a16d6"/>
<line x1="459.5" y1="322.6" x2="459.5" y2="353.6" stroke="#8f6534" stroke-width="1.05"/>
<line x1="452.3" y1="337.4" x2="466.7" y2="337.4" stroke="#8f6534" stroke-width="1.05"/>
<line x1="456.5" y1="322.6" x2="462.5" y2="322.6" stroke="#8f6534" stroke-width="1.05"/>
<line x1="456.5" y1="353.6" x2="462.5" y2="353.6" stroke="#8f6534" stroke-width="1.05"/>
<circle cx="459.4" cy="305.8" r="1.4" fill="#8f6534"/>
<circle cx="459.5" cy="332.4" r="1.4" fill="#8f6534"/>
<circle cx="459.5" cy="337.4" r="1.4" fill="#8f6534"/>
<circle cx="459.5" cy="351.1" r="1.4" fill="#8f6534"/>
<circle cx="454.2" cy="353.6" r="1.4" fill="#8f6534"/>
<circle cx="465.6" cy="353.6" r="1.4" fill="#8f6534"/>
<line x1="480.7" y1="337" x2="480.7" y2="377.1" stroke="#28b428" stroke-width="1.05"/>
<line x1="473.7" y1="363" x2="487.7" y2="363" stroke="#28b428" stroke-width="1.05"/>
<line x1="477.2" y1="337" x2="484.2" y2="337" stroke="#28b428" stroke-width="1.05"/>
<line x1="477.2" y1="377.1" x2="484.2" y2="377.1" stroke="#28b428" stroke-width="1.05"/>
<circle cx="480.7" cy="328.2" r="1.4" fill="#28b428"/>
<circle cx="480.7" cy="337" r="1.4" fill="#28b428"/>
<circle cx="480.7" cy="341.8" r="1.4" fill="#28b428"/>
<circle cx="480.7" cy="363" r="1.4" fill="#28b428"/>
<circle cx="480.7" cy="367.8" r="1.4" fill="#28b428"/>
<circle cx="478" cy="379.8" r="1.4" fill="#28b428"/>
<circle cx="483.3" cy="377.1" r="1.4" fill="#28b428"/>
<line x1="396" y1="393.6" x2="396" y2="395.6" stroke="#333" stroke-width="0.8"/>
<line x1="416.8" y1="393.6" x2="416.8" y2="395.6" stroke="#333" stroke-width="0.8"/>
<line x1="438.3" y1="393.6" x2="438.3" y2="395.6" stroke="#333" stroke-width="0.8"/>
<line x1="459.5" y1="393.6" x2="459.5" y2="395.6" stroke="#333" stroke-width="0.8"/>
<line x1="480.7" y1="393.6" x2="480.7" y2="395.6" stroke="#333" stroke-width="0.8"/>
<rect x="380" y="315.2" width="3.2" height="1.4" fill="#fff"/>
<line x1="379.8" y1="315" x2="383.4" y2="315" stroke="#333" stroke-width="0.8"/>
<line x1="379.8" y1="316.8" x2="383.4" y2="316.8" stroke="#333" stroke-width="0.8"/>
<text x="496.2" y="394.3" font-size="5" text-anchor="start" fill="#333" stroke="#333" stroke-width="0.13">Days</text>
<path d="M395.5,290.7 L395.5,287.5 L480.2,287.5 L480.2,290.7" stroke="#555" stroke-width="0.8" fill="none"/>
<text x="439.5" y="285.64" font-size="6.5" text-anchor="middle" font-weight="bold" fill="#1a1a1a" stroke="#1a1a1a" stroke-width="0.1">ns</text>
<path d="M395.5,300.3 L395.5,297.1 L459.1,297.1 L459.1,300.9" stroke="#555" stroke-width="0.8" fill="none"/>
<line x1="415.9" y1="297.1" x2="415.9" y2="299.6" stroke="#555" stroke-width="0.8"/>
<line x1="437.3" y1="297.1" x2="437.3" y2="299.6" stroke="#555" stroke-width="0.8"/>
<circle cx="397.8" cy="294" r="1.3" fill="#111"/>
<path d="M460.3,302.4 L460.3,299.6 L480.5,299.6 L480.5,302.4" stroke="#555" stroke-width="0.8" fill="none"/>
<circle cx="471.2" cy="296.6" r="1.3" fill="#111"/>
<text x="395.8" y="403.19" font-size="7.2" text-anchor="middle" fill="#333" stroke="#333" stroke-width="0.13">0</text>
<text x="417.5" y="403.19" font-size="7.2" text-anchor="middle" font-weight="bold" fill="#111" stroke="#111" stroke-width="0.1">14</text>
<text x="438.3" y="403.19" font-size="7.2" text-anchor="middle" font-weight="bold" fill="#111" stroke="#111" stroke-width="0.1">14</text>
<text x="459.5" y="403.19" font-size="7.2" text-anchor="middle" font-weight="bold" fill="#111" stroke="#111" stroke-width="0.1">17</text>
<text x="480.7" y="403.19" font-size="7.2" text-anchor="middle" font-weight="bold" fill="#111" stroke="#111" stroke-width="0.1">99</text>
<text x="493.5" y="403.19" font-size="7.2" text-anchor="start" font-weight="bold" fill="#111" stroke="#111" stroke-width="0.1">MST</text>
<text x="417.5" y="410.2" font-size="5" text-anchor="middle" fill="#333" stroke="#333" stroke-width="0.13">(10–50)</text>
<text x="438.3" y="410.2" font-size="5" text-anchor="middle" fill="#333" stroke="#333" stroke-width="0.13">(14–18)</text>
<text x="459.5" y="410.2" font-size="5" text-anchor="middle" fill="#333" stroke="#333" stroke-width="0.13">(11–84)</text>
<text x="480.7" y="410.2" font-size="5" text-anchor="middle" fill="#333" stroke="#333" stroke-width="0.13">(15–213)</text>
<text x="493" y="410.2" font-size="5" text-anchor="start" fill="#333" stroke="#333" stroke-width="0.13">(range)</text>
<text x="397.1" y="409.15" font-size="5.7" text-anchor="end" font-weight="bold" fill="#111" stroke="#111" stroke-width="0.1">At treatment</text>
<text x="397.1" y="415.18" font-size="5.5" text-anchor="end" font-weight="bold" fill="#111" stroke="#111" stroke-width="0.1">START</text>
</svg>
</body></html>
